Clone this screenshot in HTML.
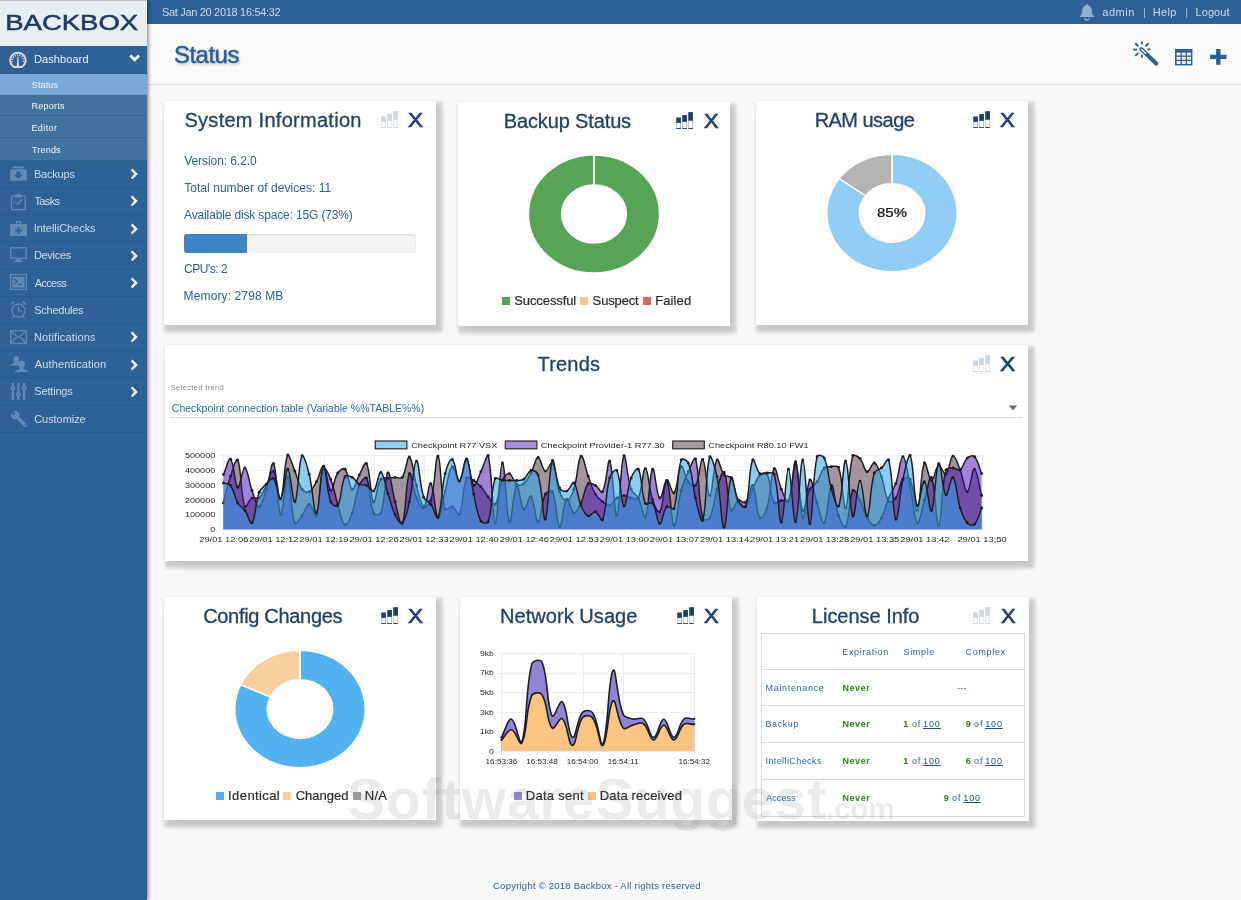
<!DOCTYPE html><html><head><meta charset="utf-8"><title>Status</title><style>
*{box-sizing:border-box;margin:0;padding:0}
html,body{width:1241px;height:900px;overflow:hidden}
body{position:relative;background:#f8f8f8;font-family:"Liberation Sans",sans-serif;color:#2d6099;line-height:1}
#app{position:absolute;left:0;top:0;width:1241px;height:900px;overflow:hidden;will-change:transform}
.abs,.t,svg{position:absolute}
.t{white-space:nowrap;line-height:1;transform-origin:0 0}
#side{position:absolute;left:0;top:0;width:147px;height:900px;background:#2e6297;box-shadow:1px 0 4px rgba(0,0,0,.55);z-index:5}
#logo{position:absolute;left:0;top:0;width:147px;height:46px;background:#e8edf2;border-top:1px solid #bfc3c7}
#hdr{position:absolute;left:147px;top:0;width:1094px;height:24px;background:#2e6297;z-index:4}
#tbar{position:absolute;left:147px;top:24px;width:1094px;height:61px;background:#fafafa;border-bottom:1px solid #dadde2}
.mi{position:absolute;left:0;width:147px;border-bottom:1px solid #295a8c}
.sub{position:absolute;left:0;width:147px;background:#40749f;border-bottom:1px solid #356891}
.card{position:absolute;background:#fff;box-shadow:3px 4px 3.5px 3.5px rgba(0,0,0,.165),4px 6px 12px rgba(0,0,0,.06)}
.u{text-decoration:underline}
</style></head><body><div id="app">
<div id="hdr"></div>
<div class="abs" style="left:0;top:0;z-index:6">
<span class="t" style="left:161.90px;top:7.00px;font-size:11px;letter-spacing:-0.311px;color:#cddaea;">Sat Jan 20 2018 16:54:32</span>
<span class="t" style="left:1102.23px;top:7.00px;font-size:11px;letter-spacing:0.555px;color:#cddaea;">admin</span>
<span class="t" style="left:1143.02px;top:7.00px;font-size:11px;color:#a9bfd8;">|</span>
<span class="t" style="left:1152.70px;top:7.00px;font-size:11px;letter-spacing:0.380px;color:#cddaea;">Help</span>
<span class="t" style="left:1185.32px;top:7.00px;font-size:11px;color:#a9bfd8;">|</span>
<span class="t" style="left:1195.50px;top:7.00px;font-size:11px;letter-spacing:0.088px;color:#cddaea;">Logout</span>
<svg style="left:1078px;top:3px" width="18" height="18" viewBox="0 0 18 18"><path d="M9 1.2c.8 0 1.3.5 1.3 1.2 2.3.7 3.6 2.7 3.6 5.4 0 2.9.8 4.3 2.3 5.4v.9H1.8v-.9c1.5-1.1 2.3-2.5 2.3-5.4 0-2.7 1.3-4.7 3.6-5.4 0-.7.5-1.2 1.3-1.2z" fill="#8fb0d3"/><path d="M6.8 14.8a2.2 2.2 0 0 0 4.4 0" fill="none" stroke="#8fb0d3" stroke-width="1.3"/></svg>
</div>
<div id="tbar"></div>
<span class="t" style="left:173.91px;top:43.00px;font-size:24px;letter-spacing:-0.496px;color:#2b5f99;-webkit-text-stroke:.55px #2b5f99;text-shadow:1px 2px 3px rgba(40,60,90,.3);">Status</span>
<svg style="left:1132px;top:40px" width="28" height="28" viewBox="0 0 28 28"><g stroke="#2a5f97" stroke-linecap="butt" fill="none"><path d="M9.300 9.100L24.200 23.500" stroke-width="4" stroke-linecap="round"/><path d="M9.600 9.400l4 3.900" stroke="#fafafa" stroke-width="1.300" stroke-linecap="round"/><g stroke-width="1.900"><path d="M9.850 1.500v2.900"/><path d="M9.850 14.900v2.800"/><path d="M1.300 9.600h3.700"/><path d="M15.500 9.400h2.900"/><path d="M3.200 3.300l3.300 3"/><path d="M16.600 3.300l-3.200 3"/><path d="M3.200 15.900l3.300-3"/></g></g></svg>
<svg style="left:1175px;top:49px" width="18" height="17" viewBox="0 0 18 17"><rect x="0" y="0" width="17.4" height="16.4" fill="#2a5f97"/><g fill="#fafafa"><rect x="1.6" y="3.6" width="3.9" height="2.9"/><rect x="6.8" y="3.6" width="3.9" height="2.9"/><rect x="12" y="3.6" width="3.9" height="2.9"/><rect x="1.6" y="7.8" width="3.9" height="2.9"/><rect x="6.8" y="7.8" width="3.9" height="2.9"/><rect x="12" y="7.8" width="3.9" height="2.9"/><rect x="1.6" y="12" width="3.9" height="2.9"/><rect x="6.8" y="12" width="3.9" height="2.9"/><rect x="12" y="12" width="3.9" height="2.9"/></g></svg>
<svg style="left:1210px;top:49px" width="17" height="16" viewBox="0 0 17 16"><path d="M6.1 0h4.4v5.7h6v4.4h-6v5.7H6.1v-5.7H.2V5.7h5.9z" fill="#2a5f97"/></svg>
<div id="side"><div id="logo">
<svg style="left:0;top:0" width="147" height="46" viewBox="0 0 147 46"><text x="5.2" y="29.3" font-family="Liberation Sans, sans-serif" font-size="22.6" fill="#1d3d66" stroke="#1d3d66" stroke-width=".55" textLength="133" lengthAdjust="spacingAndGlyphs">BACKBOX</text></svg>
</div>
<div class="mi" style="top:46px;height:28px"></div>
<svg style="left:9.3px;top:50.8px" width="18" height="18" viewBox="0 0 18 18"><g fill="none" stroke="#e0ddd7" stroke-linejoin="round"><path d="M4.9 16A7.700 7.700 0 1 1 12.900 16Z" stroke-width="2"/><path d="M3.830 11.350A5.400 5.400 0 1 1 13.970 11.350" stroke-width="1.500" stroke-dasharray="1.100 1.250"/></g><path d="M7.800 15.800h2.200L9.400 5.600h-1z" fill="#e0ddd7"/></svg>
<span class="t" style="left:33.90px;top:54.00px;font-size:11px;letter-spacing:0.100px;color:#eef2f7;">Dashboard</span>
<svg style="left:129px;top:54px" width="12" height="9" viewBox="0 0 12 9"><path d="M1.300 1.500l4.400 4.300 4.400-4.300" fill="none" stroke="#f4f7fb" stroke-width="2.900"/></svg>
<div class="sub" style="top:74px;height:21px;background:#78a9d8;border-color:#6d9dcc;"></div>
<span class="t" style="left:31.79px;top:81.00px;font-size:9px;letter-spacing:0.144px;color:#f2f6fa;">Status</span>
<div class="sub" style="top:95px;height:21.4px;"></div>
<span class="t" style="left:31.46px;top:102.00px;font-size:9px;letter-spacing:0.258px;color:#f2f6fa;">Reports</span>
<div class="sub" style="top:116.4px;height:22px;"></div>
<span class="t" style="left:31.46px;top:124.00px;font-size:9px;letter-spacing:0.395px;color:#f2f6fa;">Editor</span>
<div class="sub" style="top:138.4px;height:22.5px;"></div>
<span class="t" style="left:32.00px;top:146.00px;font-size:9px;letter-spacing:0.183px;color:#f2f6fa;">Trends</span>
<div class="mi" style="top:160.9px;height:27.2px"></div>
<svg style="left:10px;top:165.4px" width="18" height="18" viewBox="0 0 18 18"><path d="M2.6 1.6h11.8v1.6H2.6z M1 4.2h15a.8.8 0 0 1 .8.8v10a.8.8 0 0 1-.8.8H1a.8.8 0 0 1-.8-.8V5a.8.8 0 0 1 .8-.8z M6.6 6.4v3.2H4.2l4.3 4.2 4.3-4.2h-2.4V6.4z" fill="#5f8ab6" fill-rule="evenodd"/></svg>
<span class="t" style="left:33.90px;top:169.00px;font-size:11px;letter-spacing:-0.182px;color:#cfdcea;">Backups</span>
<svg style="left:130px;top:168.2px" width="9" height="12" viewBox="0 0 9 12"><path d="M1.600 1.300l4.400 4.600-4.400 4.600" fill="none" stroke="#f4f7fb" stroke-width="2.500"/></svg>
<div class="mi" style="top:188.1px;height:27.2px"></div>
<svg style="left:10px;top:192.6px" width="18" height="18" viewBox="0 0 18 18"><g fill="none" stroke="#5f8ab6" stroke-width="1.3"><rect x="1.6" y="3" width="13.6" height="13.6"/><path d="M5 8.6l2.6 2.8 4.6-5.2"/></g><path d="M5.6 1.6h2V.4h1.8v1.2h2v2.8H5.6z" fill="#5f8ab6"/></svg>
<span class="t" style="left:34.55px;top:196.00px;font-size:11px;letter-spacing:-0.673px;color:#cfdcea;">Tasks</span>
<svg style="left:130px;top:195.4px" width="9" height="12" viewBox="0 0 9 12"><path d="M1.600 1.300l4.400 4.600-4.400 4.600" fill="none" stroke="#f4f7fb" stroke-width="2.500"/></svg>
<div class="mi" style="top:215.3px;height:27.2px"></div>
<svg style="left:10px;top:219.8px" width="18" height="18" viewBox="0 0 18 18"><path d="M5.8 1h5.4v3H17v12H0V4h5.800z M7 2.200v1.800h3v-1.800z M7.400 7h2.200v2.400H12v2.200H9.600V14H7.400v-2.400H5V9.400h2.400z" fill="#5f8ab6" fill-rule="evenodd"/></svg>
<span class="t" style="left:33.78px;top:223.00px;font-size:11px;letter-spacing:-0.045px;color:#cfdcea;">IntelliChecks</span>
<svg style="left:130px;top:222.6px" width="9" height="12" viewBox="0 0 9 12"><path d="M1.600 1.300l4.400 4.600-4.400 4.600" fill="none" stroke="#f4f7fb" stroke-width="2.500"/></svg>
<div class="mi" style="top:242.5px;height:27.2px"></div>
<svg style="left:10px;top:247px" width="18" height="18" viewBox="0 0 18 18"><g fill="none" stroke="#5f8ab6" stroke-width="1.3"><rect x=".8" y=".8" width="15.400" height="10.400"/></g><path d="M6.400 11.600h4.200l.6 2.200h1.600v1.400H4.200v-1.400h1.600z" fill="#5f8ab6"/></svg>
<span class="t" style="left:33.90px;top:250.00px;font-size:11px;letter-spacing:-0.304px;color:#cfdcea;">Devices</span>
<svg style="left:130px;top:249.8px" width="9" height="12" viewBox="0 0 9 12"><path d="M1.600 1.300l4.400 4.600-4.400 4.600" fill="none" stroke="#f4f7fb" stroke-width="2.500"/></svg>
<div class="mi" style="top:269.7px;height:27.2px"></div>
<svg style="left:10px;top:274.2px" width="18" height="18" viewBox="0 0 18 18"><rect x=".6" y=".6" width="15.800" height="14.800" fill="none" stroke="#5f8ab6" stroke-width="1.200"/><rect x="2.400" y="2.800" width="12.200" height="10.800" fill="#5f8ab6"/><path d="M4 5l3.200 2.400L4 9.800" fill="none" stroke="#2e6297" stroke-width="1.200"/><path d="M8 10.400h4" stroke="#2e6297" stroke-width="1.200"/></svg>
<span class="t" style="left:34.78px;top:278.00px;font-size:11px;letter-spacing:-0.687px;color:#cfdcea;">Access</span>
<svg style="left:130px;top:277px" width="9" height="12" viewBox="0 0 9 12"><path d="M1.600 1.300l4.400 4.600-4.400 4.600" fill="none" stroke="#f4f7fb" stroke-width="2.500"/></svg>
<div class="mi" style="top:296.9px;height:27.2px"></div>
<svg style="left:10px;top:301.4px" width="18" height="18" viewBox="0 0 18 18"><g fill="none" stroke="#5f8ab6" stroke-width="1.300"><circle cx="8.500" cy="9.600" r="6.600"/><path d="M8.500 5.600v4.200h3.200"/><path d="M1.200 3.800a4 4 0 0 1 3.600-2.800M15.800 3.800A4 4 0 0 0 12.200 1"/><path d="M4.200 15l-1.400 1.800M12.800 15l1.400 1.800"/></g></svg>
<span class="t" style="left:34.30px;top:305.00px;font-size:11px;letter-spacing:-0.259px;color:#cfdcea;">Schedules</span>
<div class="mi" style="top:324.1px;height:27.2px"></div>
<svg style="left:10px;top:328.6px" width="18" height="18" viewBox="0 0 18 18"><g fill="none" stroke="#5f8ab6" stroke-width="1.300"><rect x=".7" y="1.700" width="15.600" height="12.600"/><path d="M.7 1.700l7.800 7 7.800-7M.7 14.300l5.800-6M16.300 14.300l-5.800-6"/></g></svg>
<span class="t" style="left:33.90px;top:332.00px;font-size:11px;letter-spacing:0.149px;color:#cfdcea;">Notifications</span>
<svg style="left:130px;top:331.4px" width="9" height="12" viewBox="0 0 9 12"><path d="M1.600 1.300l4.400 4.600-4.400 4.600" fill="none" stroke="#f4f7fb" stroke-width="2.500"/></svg>
<div class="mi" style="top:351.3px;height:27.2px"></div>
<svg style="left:10px;top:355.8px" width="18" height="18" viewBox="0 0 18 18"><path d="M6.400 0c1.800 0 2.800 1.300 2.800 3.200 0 1-.3 1.900-.9 2.600 1.200-1 2.400-1.400 3.400-1.400 2 0 3.100 1.500 3.100 3.700 0 1.600-.7 3-1.600 3.800v1c2.200.6 5 1.600 5.600 3.100H4.400c.6-1.500 3.400-2.500 5.400-3.100v-1c-.7-.6-1.200-1.500-1.400-2.500H0c.5-1.300 2.600-2.200 4.400-2.700v-.9C3.600 5.100 3.400 4.200 3.400 3.200 3.400 1.300 4.600 0 6.400 0z" fill="#5f8ab6"/></svg>
<span class="t" style="left:34.78px;top:359.00px;font-size:11px;letter-spacing:0.125px;color:#cfdcea;">Authentication</span>
<svg style="left:130px;top:358.6px" width="9" height="12" viewBox="0 0 9 12"><path d="M1.600 1.300l4.400 4.600-4.400 4.600" fill="none" stroke="#f4f7fb" stroke-width="2.500"/></svg>
<div class="mi" style="top:378.5px;height:27.2px"></div>
<svg style="left:10px;top:383px" width="18" height="18" viewBox="0 0 18 18"><g fill="#5f8ab6"><rect x="1.700" y="0" width="2.300" height="17"/><rect x="7.300" y="0" width="2.300" height="17"/><rect x="12.900" y="0" width="2.300" height="17"/><rect x=".4" y="3.400" width="4.900" height="3.800" rx="1.300"/><rect x="6" y="9.600" width="4.900" height="3.800" rx="1.300"/><rect x="11.600" y="2.800" width="4.900" height="3.800" rx="1.300"/></g><g fill="#2e6297"><rect x="2.200" y="4.500" width="1.300" height="1.600"/><rect x="7.800" y="10.700" width="1.300" height="1.600"/><rect x="13.400" y="3.900" width="1.300" height="1.600"/></g></svg>
<span class="t" style="left:34.30px;top:386.00px;font-size:11px;letter-spacing:-0.178px;color:#cfdcea;">Settings</span>
<svg style="left:130px;top:385.8px" width="9" height="12" viewBox="0 0 9 12"><path d="M1.600 1.300l4.400 4.600-4.400 4.600" fill="none" stroke="#f4f7fb" stroke-width="2.500"/></svg>
<div class="mi" style="top:405.7px;height:27.2px"></div>
<svg style="left:10px;top:410.2px" width="18" height="18" viewBox="0 0 18 18"><circle cx="5" cy="5" r="4.300" fill="#5f8ab6"/><path d="M6.500 6.500L15.300 15.300" stroke="#5f8ab6" stroke-width="3.600" stroke-linecap="round" fill="none"/><path d="M4.300 4.300L-.5 -.5" stroke="#2e6297" stroke-width="3" fill="none"/><circle cx="15.100" cy="15.100" r=".8" fill="#2e6297"/></svg>
<span class="t" style="left:34.24px;top:414.00px;font-size:11px;letter-spacing:-0.064px;color:#cfdcea;">Customize</span>
</div>
<div class="card" style="left:164px;top:101px;width:272px;height:224px"></div>
<div class="card" style="left:458px;top:102px;width:272px;height:224px"></div>
<div class="card" style="left:756px;top:101px;width:272px;height:224px"></div>
<div class="card" style="left:165px;top:345px;width:863px;height:216px"></div>
<div class="card" style="left:164px;top:597px;width:272px;height:223px"></div>
<div class="card" style="left:460px;top:597px;width:272px;height:223px"></div>
<div class="card" style="left:757px;top:597px;width:272px;height:224px"></div>
<span class="t" style="left:184.49px;top:110.00px;font-size:20px;letter-spacing:0.272px;color:#1f4068;-webkit-text-stroke:.3px #1f4068;">System Information</span>
<svg style="left:380.8px;top:110.6px" width="18" height="18" viewBox="0 0 18 18"><rect x="0.3" y="5.6" width="4.600" height="11.2" fill="#e3e9f0"/><rect x="0.3" y="5.6" width="4.600" height="5.3" fill="#ccd7e3"/><rect x="0.3" y="16" width="4.600" height=".9" fill="#ccd7e3"/><rect x="1.1" y="10.9" width="3" height="5.1" fill="#fff"/><rect x="6.3" y="3.1" width="4.600" height="13.7" fill="#e3e9f0"/><rect x="6.3" y="3.1" width="4.600" height="6.85" fill="#ccd7e3"/><rect x="6.3" y="16" width="4.600" height=".9" fill="#ccd7e3"/><rect x="7.1" y="9.95" width="3" height="6.05" fill="#fff"/><rect x="12.3" y="0.2" width="4.600" height="16.6" fill="#e3e9f0"/><rect x="12.3" y="0.2" width="4.600" height="8.6" fill="#ccd7e3"/><rect x="12.3" y="16" width="4.600" height=".9" fill="#ccd7e3"/><rect x="13.1" y="8.8" width="3" height="7.2" fill="#fff"/></svg>
<span class="t" style="left:408.36px;top:111.00px;font-size:19.5px;color:#1f4068;-webkit-text-stroke:.7px #1f4068;transform:scaleX(1.151);">X</span>
<span class="t" style="left:503.76px;top:111.00px;font-size:20px;letter-spacing:-0.133px;color:#1f4068;-webkit-text-stroke:.3px #1f4068;">Backup Status</span>
<svg style="left:675.5px;top:111.8px" width="18" height="18" viewBox="0 0 18 18"><rect x="0.3" y="5.6" width="4.600" height="11.2" fill="#a9b8ca"/><rect x="0.3" y="5.6" width="4.600" height="5.3" fill="#1f4068"/><rect x="0.3" y="16" width="4.600" height=".9" fill="#1f4068"/><rect x="1.1" y="10.9" width="3" height="5.1" fill="#fff"/><rect x="6.3" y="3.1" width="4.600" height="13.7" fill="#a9b8ca"/><rect x="6.3" y="3.1" width="4.600" height="6.85" fill="#1f4068"/><rect x="6.3" y="16" width="4.600" height=".9" fill="#1f4068"/><rect x="7.1" y="9.95" width="3" height="6.05" fill="#fff"/><rect x="12.3" y="0.2" width="4.600" height="16.6" fill="#a9b8ca"/><rect x="12.3" y="0.2" width="4.600" height="8.6" fill="#1f4068"/><rect x="12.3" y="16" width="4.600" height=".9" fill="#1f4068"/><rect x="13.1" y="8.8" width="3" height="7.2" fill="#fff"/></svg>
<span class="t" style="left:703.56px;top:112.00px;font-size:19.5px;color:#1f4068;-webkit-text-stroke:.7px #1f4068;transform:scaleX(1.119);">X</span>
<span class="t" style="left:814.66px;top:110.00px;font-size:20px;letter-spacing:-0.533px;color:#1f4068;-webkit-text-stroke:.3px #1f4068;">RAM usage</span>
<svg style="left:973px;top:110.6px" width="18" height="18" viewBox="0 0 18 18"><rect x="0.3" y="5.6" width="4.600" height="11.2" fill="#a9b8ca"/><rect x="0.3" y="5.6" width="4.600" height="5.3" fill="#1f4068"/><rect x="0.3" y="16" width="4.600" height=".9" fill="#1f4068"/><rect x="1.1" y="10.9" width="3" height="5.1" fill="#fff"/><rect x="6.3" y="3.1" width="4.600" height="13.7" fill="#a9b8ca"/><rect x="6.3" y="3.1" width="4.600" height="6.85" fill="#1f4068"/><rect x="6.3" y="16" width="4.600" height=".9" fill="#1f4068"/><rect x="7.1" y="9.95" width="3" height="6.05" fill="#fff"/><rect x="12.3" y="0.2" width="4.600" height="16.6" fill="#a9b8ca"/><rect x="12.3" y="0.2" width="4.600" height="8.6" fill="#1f4068"/><rect x="12.3" y="16" width="4.600" height=".9" fill="#1f4068"/><rect x="13.1" y="8.8" width="3" height="7.2" fill="#fff"/></svg>
<span class="t" style="left:1000.36px;top:111.00px;font-size:19.5px;color:#1f4068;-webkit-text-stroke:.7px #1f4068;transform:scaleX(1.135);">X</span>
<span class="t" style="left:537.55px;top:354.00px;font-size:20px;letter-spacing:0.185px;color:#1f4068;-webkit-text-stroke:.3px #1f4068;">Trends</span>
<svg style="left:972.5px;top:355px" width="18" height="18" viewBox="0 0 18 18"><rect x="0.3" y="5.6" width="4.600" height="11.2" fill="#e3e9f0"/><rect x="0.3" y="5.6" width="4.600" height="5.3" fill="#ccd7e3"/><rect x="0.3" y="16" width="4.600" height=".9" fill="#ccd7e3"/><rect x="1.1" y="10.9" width="3" height="5.1" fill="#fff"/><rect x="6.3" y="3.1" width="4.600" height="13.7" fill="#e3e9f0"/><rect x="6.3" y="3.1" width="4.600" height="6.85" fill="#ccd7e3"/><rect x="6.3" y="16" width="4.600" height=".9" fill="#ccd7e3"/><rect x="7.1" y="9.95" width="3" height="6.05" fill="#fff"/><rect x="12.3" y="0.2" width="4.600" height="16.6" fill="#e3e9f0"/><rect x="12.3" y="0.2" width="4.600" height="8.6" fill="#ccd7e3"/><rect x="12.3" y="16" width="4.600" height=".9" fill="#ccd7e3"/><rect x="13.1" y="8.8" width="3" height="7.2" fill="#fff"/></svg>
<span class="t" style="left:1000.06px;top:355.00px;font-size:19.5px;color:#1f4068;-webkit-text-stroke:.7px #1f4068;transform:scaleX(1.176);">X</span>
<span class="t" style="left:203.18px;top:606.00px;font-size:20px;letter-spacing:-0.315px;color:#1f4068;-webkit-text-stroke:.3px #1f4068;">Config Changes</span>
<svg style="left:380.8px;top:607.3px" width="18" height="18" viewBox="0 0 18 18"><rect x="0.3" y="5.6" width="4.600" height="11.2" fill="#a9b8ca"/><rect x="0.3" y="5.6" width="4.600" height="5.3" fill="#1f4068"/><rect x="0.3" y="16" width="4.600" height=".9" fill="#1f4068"/><rect x="1.1" y="10.9" width="3" height="5.1" fill="#fff"/><rect x="6.3" y="3.1" width="4.600" height="13.7" fill="#a9b8ca"/><rect x="6.3" y="3.1" width="4.600" height="6.85" fill="#1f4068"/><rect x="6.3" y="16" width="4.600" height=".9" fill="#1f4068"/><rect x="7.1" y="9.95" width="3" height="6.05" fill="#fff"/><rect x="12.3" y="0.2" width="4.600" height="16.6" fill="#a9b8ca"/><rect x="12.3" y="0.2" width="4.600" height="8.6" fill="#1f4068"/><rect x="12.3" y="16" width="4.600" height=".9" fill="#1f4068"/><rect x="13.1" y="8.8" width="3" height="7.2" fill="#fff"/></svg>
<span class="t" style="left:408.36px;top:607.00px;font-size:19.5px;color:#1f4068;-webkit-text-stroke:.7px #1f4068;transform:scaleX(1.151);">X</span>
<span class="t" style="left:499.96px;top:606.00px;font-size:20px;letter-spacing:0.059px;color:#1f4068;-webkit-text-stroke:.3px #1f4068;">Network Usage</span>
<svg style="left:676.8px;top:607.3px" width="18" height="18" viewBox="0 0 18 18"><rect x="0.3" y="5.6" width="4.600" height="11.2" fill="#a9b8ca"/><rect x="0.3" y="5.6" width="4.600" height="5.3" fill="#1f4068"/><rect x="0.3" y="16" width="4.600" height=".9" fill="#1f4068"/><rect x="1.1" y="10.9" width="3" height="5.1" fill="#fff"/><rect x="6.3" y="3.1" width="4.600" height="13.7" fill="#a9b8ca"/><rect x="6.3" y="3.1" width="4.600" height="6.85" fill="#1f4068"/><rect x="6.3" y="16" width="4.600" height=".9" fill="#1f4068"/><rect x="7.1" y="9.95" width="3" height="6.05" fill="#fff"/><rect x="12.3" y="0.2" width="4.600" height="16.6" fill="#a9b8ca"/><rect x="12.3" y="0.2" width="4.600" height="8.6" fill="#1f4068"/><rect x="12.3" y="16" width="4.600" height=".9" fill="#1f4068"/><rect x="13.1" y="8.8" width="3" height="7.2" fill="#fff"/></svg>
<span class="t" style="left:704.46px;top:607.00px;font-size:19.5px;color:#1f4068;-webkit-text-stroke:.7px #1f4068;transform:scaleX(1.127);">X</span>
<span class="t" style="left:811.86px;top:606.00px;font-size:20px;letter-spacing:-0.025px;color:#1f4068;-webkit-text-stroke:.3px #1f4068;">License Info</span>
<svg style="left:973.4px;top:607.3px" width="18" height="18" viewBox="0 0 18 18"><rect x="0.3" y="5.6" width="4.600" height="11.2" fill="#e3e9f0"/><rect x="0.3" y="5.6" width="4.600" height="5.3" fill="#ccd7e3"/><rect x="0.3" y="16" width="4.600" height=".9" fill="#ccd7e3"/><rect x="1.1" y="10.9" width="3" height="5.1" fill="#fff"/><rect x="6.3" y="3.1" width="4.600" height="13.7" fill="#e3e9f0"/><rect x="6.3" y="3.1" width="4.600" height="6.85" fill="#ccd7e3"/><rect x="6.3" y="16" width="4.600" height=".9" fill="#ccd7e3"/><rect x="7.1" y="9.95" width="3" height="6.05" fill="#fff"/><rect x="12.3" y="0.2" width="4.600" height="16.6" fill="#e3e9f0"/><rect x="12.3" y="0.2" width="4.600" height="8.6" fill="#ccd7e3"/><rect x="12.3" y="16" width="4.600" height=".9" fill="#ccd7e3"/><rect x="13.1" y="8.8" width="3" height="7.2" fill="#fff"/></svg>
<span class="t" style="left:1001.46px;top:607.00px;font-size:19.5px;color:#1f4068;-webkit-text-stroke:.7px #1f4068;transform:scaleX(1.127);">X</span>
<span class="t" style="left:184.25px;top:155.00px;font-size:12px;letter-spacing:-0.071px;color:#2d6099;">Version: 6.2.0</span>
<span class="t" style="left:184.23px;top:182.00px;font-size:12px;letter-spacing:0.045px;color:#2d6099;">Total number of devices: 11</span>
<span class="t" style="left:184.08px;top:209.00px;font-size:12px;letter-spacing:-0.148px;color:#2d6099;">Available disk space: 15G (73%)</span>
<span class="t" style="left:183.99px;top:263.00px;font-size:12px;letter-spacing:-0.451px;color:#2d6099;">CPU's: 2</span>
<span class="t" style="left:183.62px;top:290.00px;font-size:12px;letter-spacing:0.120px;color:#2d6099;">Memory: 2798 MB</span>
<div class="abs" style="left:184px;top:234px;width:232px;height:19px;background:#f3f3f3;border-radius:3px;box-shadow:inset 0 1px 2px rgba(0,0,0,.12);overflow:hidden"><div style="width:63px;height:19px;background:#3d85c6"></div></div>
<svg style="left:523.9px;top:148.6px" width="140" height="130" viewBox="-70 -65 140 130"><g transform="scale(1,0.9)"><circle cx="0" cy="0" r="48.95" fill="none" stroke="#58a457" stroke-width="31.7"/><path d="M0 -65.8 V-32.1" stroke="#fff" stroke-width="1.800"/></g></svg>
<svg style="left:822.2px;top:148.3px" width="140" height="130" viewBox="-70 -65 140 130"><g transform="scale(1,0.9)"><path d="M0.00 -65.30A65.3 65.3 0 1 1 -52.83 -38.38L-26.37 -19.16A32.6 32.6 0 1 0 0.00 -32.60Z" fill="#8fcdf4" stroke="#fff" stroke-width="1.600"/><path d="M-52.83 -38.38A65.3 65.3 0 0 1 -0.00 -65.30L-0.00 -32.60A32.6 32.6 0 0 0 -26.37 -19.16Z" fill="#b3b3b3" stroke="#fff" stroke-width="1.600"/></g><text x="0" y="4.400" text-anchor="middle" font-family="Liberation Sans, sans-serif" font-size="13" fill="#111" stroke="#111" stroke-width=".25" transform="scale(1.150,1)">85%</text></svg>
<svg style="left:230px;top:643.7px" width="140" height="130" viewBox="-70 -65 140 130"><g transform="scale(1,0.9)"><path d="M0.00 -65.30A65.3 65.3 0 1 1 -59.42 -27.08L-29.66 -13.52A32.6 32.6 0 1 0 0.00 -32.60Z" fill="#52b1ee" stroke="#fff" stroke-width="1.600"/><path d="M-59.42 -27.08A65.3 65.3 0 0 1 -0.00 -65.30L-0.00 -32.60A32.6 32.6 0 0 0 -29.66 -13.52Z" fill="#f8d09e" stroke="#fff" stroke-width="1.600"/></g></svg>
<div class="abs" style="left:502.1px;top:296.8px;width:8px;height:8px;background:#55a355"></div>
<span class="t" style="left:514.21px;top:294.00px;font-size:13px;letter-spacing:-0.089px;color:#2b2b2b;-webkit-text-stroke:.2px #2b2b2b;">Successful</span>
<div class="abs" style="left:580px;top:296.8px;width:8px;height:8px;background:#f6c98f"></div>
<span class="t" style="left:592.61px;top:294.00px;font-size:13px;letter-spacing:-0.148px;color:#2b2b2b;-webkit-text-stroke:.2px #2b2b2b;">Suspect</span>
<div class="abs" style="left:643.3px;top:296.8px;width:8px;height:8px;background:#d8695e"></div>
<span class="t" style="left:655.23px;top:294.00px;font-size:13px;letter-spacing:0.099px;color:#2b2b2b;-webkit-text-stroke:.2px #2b2b2b;">Failed</span>
<div class="abs" style="left:216px;top:791.8px;width:8px;height:8px;background:#52b1ee"></div>
<span class="t" style="left:228.10px;top:789.00px;font-size:13px;letter-spacing:0.406px;color:#2b2b2b;-webkit-text-stroke:.2px #2b2b2b;">Identical</span>
<div class="abs" style="left:283.3px;top:791.8px;width:8px;height:8px;background:#f8cc96"></div>
<span class="t" style="left:295.64px;top:789.00px;font-size:13px;letter-spacing:0.022px;color:#2b2b2b;-webkit-text-stroke:.2px #2b2b2b;">Changed</span>
<div class="abs" style="left:353px;top:791.8px;width:8px;height:8px;background:#a09ea0"></div>
<span class="t" style="left:364.73px;top:789.00px;font-size:13px;letter-spacing:0.310px;color:#2b2b2b;-webkit-text-stroke:.2px #2b2b2b;">N/A</span>
<div class="abs" style="left:513.9px;top:791.8px;width:8px;height:8px;background:#8e86cf"></div>
<span class="t" style="left:525.83px;top:789.00px;font-size:13px;letter-spacing:0.252px;color:#2b2b2b;-webkit-text-stroke:.2px #2b2b2b;">Data sent</span>
<div class="abs" style="left:588px;top:791.8px;width:8px;height:8px;background:#f9c57f"></div>
<span class="t" style="left:599.73px;top:789.00px;font-size:13px;letter-spacing:0.166px;color:#2b2b2b;-webkit-text-stroke:.2px #2b2b2b;">Data received</span>
<span class="t" style="left:170.76px;top:384.00px;font-size:7.5px;letter-spacing:0.351px;color:#8a8a8a;">Selected trend</span>
<span class="t" style="left:171.87px;top:403.00px;font-size:10.5px;color:#2f66a3;">Checkpoint connection table (Variable %%TABLE%%)</span>
<div class="abs" style="left:170px;top:417px;width:852px;height:1px;background:#dcdcdc"></div>
<svg style="left:1007.5px;top:405px" width="10" height="6" viewBox="0 0 10 6"><path d="M.8.600h8.400L5 5.200z" fill="#666"/></svg>
<svg style="left:0;top:0" width="1241" height="900" viewBox="0 0 1241 900" font-family="Liberation Sans, sans-serif"><path d="M220.4 529.5H981.600M220.4 514.5H981.600M220.4 500.5H981.600M220.4 485.5H981.600M220.4 470.5H981.600M220.4 455.5H981.600M223.5 455.2V533.3M273.5 455.2V533.3M324.5 455.2V533.3M374.5 455.2V533.3M424.5 455.2V533.3M474.5 455.2V533.3M524.5 455.2V533.3M574.5 455.2V533.3M624.5 455.2V533.3M674.5 455.2V533.3M724.5 455.2V533.3M774.5 455.2V533.3M824.5 455.2V533.3M874.5 455.2V533.3M924.5 455.2V533.3M982.5 455.2V533.3" stroke="#eeeeee" stroke-width="1" fill="none"/><path d="M223.4 503.0C226.3 492.2 227.0 486.6 230.6 476.1C232.8 469.5 236.2 456.8 237.7 460.1C241.9 469.0 240.2 494.5 244.9 506.7C246.0 509.6 248.5 500.1 252.0 498.0C254.2 496.6 257.3 499.6 259.2 498.0C263.0 494.6 263.6 490.6 266.3 485.5C269.3 479.8 271.4 469.1 273.5 471.1C277.2 474.6 278.4 501.8 280.6 499.2C284.1 495.3 283.7 462.9 287.8 454.9C289.4 454.2 292.2 464.6 294.9 471.1C297.9 478.3 298.0 483.3 302.1 489.2C303.7 491.5 307.1 492.9 309.2 491.7C312.8 489.9 314.0 486.0 316.4 481.7C319.7 476.0 321.2 465.3 323.5 466.7C327.0 468.8 327.4 489.1 330.7 490.5C333.2 491.5 333.8 478.9 337.8 473.0C339.6 470.4 343.4 467.4 345.0 469.2C349.1 473.9 348.9 487.9 352.2 489.2C354.6 490.2 356.2 480.5 359.3 474.9C361.9 470.2 365.0 460.9 366.5 463.6C370.7 471.6 370.1 497.8 373.6 501.7C375.8 504.1 376.4 486.5 380.8 479.2C382.1 477.0 385.0 478.4 387.9 478.0C390.8 477.6 392.2 477.5 395.1 477.4C397.9 477.2 400.8 479.4 402.2 477.4C406.5 471.2 407.0 455.6 409.4 457.0C412.7 458.9 413.3 474.2 416.5 485.5C419.0 494.1 419.7 502.5 423.7 506.7C425.4 508.5 429.8 504.0 430.8 500.5C435.6 483.8 435.4 454.5 438.0 456.1C441.1 458.0 440.1 491.5 445.1 509.2C445.9 511.7 449.9 505.9 452.3 506.7C455.6 507.9 458.2 516.7 459.4 514.2C463.9 505.2 461.9 489.2 466.6 478.0C467.6 475.7 471.2 478.9 473.8 480.5C476.9 482.4 478.4 483.9 480.9 486.7C484.1 490.4 485.0 492.9 488.1 496.7C490.7 499.9 493.6 506.2 495.2 504.2C499.3 499.4 498.2 488.8 502.4 479.9C503.9 476.5 507.1 472.9 509.5 473.6C512.8 474.6 513.0 481.7 516.7 484.2C518.7 485.7 521.8 485.2 523.8 483.6C527.5 480.7 528.5 477.5 531.0 473.0C534.3 467.0 535.1 457.8 538.1 457.4C540.8 457.0 541.9 469.8 545.3 471.1C547.6 472.0 550.9 460.8 552.4 463.0C556.6 469.0 555.4 480.9 559.6 491.7C561.2 495.9 564.1 500.9 566.7 500.5C569.8 499.9 572.3 494.2 573.9 489.2C578.0 476.5 577.5 459.3 581.0 456.1C583.3 454.2 585.2 468.2 588.2 476.1C590.9 483.4 591.6 487.5 595.4 494.2C597.3 497.8 599.3 499.2 602.5 501.7C605.0 503.7 607.2 506.1 609.7 505.5C612.9 504.6 613.5 500.3 616.8 498.0C619.2 496.3 621.1 495.5 624.0 495.5C626.8 495.5 628.2 497.4 631.1 498.0C633.9 498.4 637.2 500.2 638.3 498.0C642.9 488.5 642.6 468.2 645.4 468.6C648.4 469.0 648.6 487.8 652.6 499.8C654.3 505.0 658.0 514.0 659.7 511.7C663.7 506.3 662.9 485.6 666.9 480.5C668.7 478.2 672.1 494.9 674.0 493.0C677.8 489.4 677.6 469.5 681.2 466.7C683.4 465.0 684.5 476.7 688.3 481.7C690.2 484.2 694.2 487.5 695.5 485.5C699.9 478.6 700.2 457.8 702.7 459.5C705.9 461.8 706.9 495.4 709.8 495.5C712.7 495.5 713.0 465.5 717.0 459.9C718.8 457.3 720.2 469.9 724.1 474.9C725.9 477.2 729.9 475.4 731.3 478.0C735.7 486.6 734.1 494.2 738.4 503.0C739.8 505.7 743.9 508.4 745.6 506.7C749.6 502.9 749.6 496.1 752.7 489.2C755.4 483.4 755.9 479.0 759.9 474.9C761.6 473.0 765.9 472.0 767.0 474.2C771.6 483.3 769.6 494.6 774.2 503.0C775.3 505.1 778.4 501.0 781.3 500.5C784.1 500.0 787.6 502.8 788.5 500.5C793.3 488.3 793.1 462.5 795.6 464.2C798.8 466.5 798.9 503.7 802.8 510.5C804.6 513.7 806.0 497.1 809.9 489.2C811.8 485.6 814.8 485.1 817.1 481.7C820.5 476.6 820.4 472.1 824.3 468.0C826.1 466.1 828.5 466.9 831.4 466.7C834.3 466.6 837.7 464.9 838.6 467.4C843.4 481.4 843.2 510.0 845.7 508.0C848.9 505.3 847.9 472.7 852.9 455.5C853.6 454.2 858.1 456.4 860.0 458.6C863.8 462.9 863.9 470.7 867.2 471.7C869.6 472.5 871.9 462.1 874.3 463.0C877.6 464.1 879.3 470.9 881.5 476.7C885.1 486.4 884.3 495.2 888.6 501.7C890.0 503.7 894.1 500.5 895.8 498.0C899.9 491.6 898.7 484.8 902.9 479.2C904.4 477.3 909.0 476.9 910.1 479.2C914.8 489.4 915.0 513.1 917.2 510.5C920.7 506.6 920.3 471.6 924.4 463.0C926.0 459.6 928.5 479.9 931.5 480.5C934.2 480.9 935.3 467.0 938.7 465.5C941.0 464.5 943.8 475.6 945.9 474.2C949.5 471.9 949.9 456.9 953.0 456.1C955.6 455.4 957.8 464.5 960.2 470.5C963.5 478.8 964.5 492.0 967.3 491.7C970.2 491.5 971.8 468.5 974.5 469.2C977.5 470.0 978.8 485.0 981.6 495.5L981.6 529.3L223.4 529.3Z" fill="rgba(72,42,66,.5)"/><path d="M223.4 503.0C226.3 492.2 227.0 486.6 230.6 476.1C232.8 469.5 236.2 456.8 237.7 460.1C241.9 469.0 240.2 494.5 244.9 506.7C246.0 509.6 248.5 500.1 252.0 498.0C254.2 496.6 257.3 499.6 259.2 498.0C263.0 494.6 263.6 490.6 266.3 485.5C269.3 479.8 271.4 469.1 273.5 471.1C277.2 474.6 278.4 501.8 280.6 499.2C284.1 495.3 283.7 462.9 287.8 454.9C289.4 454.2 292.2 464.6 294.9 471.1C297.9 478.3 298.0 483.3 302.1 489.2C303.7 491.5 307.1 492.9 309.2 491.7C312.8 489.9 314.0 486.0 316.4 481.7C319.7 476.0 321.2 465.3 323.5 466.7C327.0 468.8 327.4 489.1 330.7 490.5C333.2 491.5 333.8 478.9 337.8 473.0C339.6 470.4 343.4 467.4 345.0 469.2C349.1 473.9 348.9 487.9 352.2 489.2C354.6 490.2 356.2 480.5 359.3 474.9C361.9 470.2 365.0 460.9 366.5 463.6C370.7 471.6 370.1 497.8 373.6 501.7C375.8 504.1 376.4 486.5 380.8 479.2C382.1 477.0 385.0 478.4 387.9 478.0C390.8 477.6 392.2 477.5 395.1 477.4C397.9 477.2 400.8 479.4 402.2 477.4C406.5 471.2 407.0 455.6 409.4 457.0C412.7 458.9 413.3 474.2 416.5 485.5C419.0 494.1 419.7 502.5 423.7 506.7C425.4 508.5 429.8 504.0 430.8 500.5C435.6 483.8 435.4 454.5 438.0 456.1C441.1 458.0 440.1 491.5 445.1 509.2C445.9 511.7 449.9 505.9 452.3 506.7C455.6 507.9 458.2 516.7 459.4 514.2C463.9 505.2 461.9 489.2 466.6 478.0C467.6 475.7 471.2 478.9 473.8 480.5C476.9 482.4 478.4 483.9 480.9 486.7C484.1 490.4 485.0 492.9 488.1 496.7C490.7 499.9 493.6 506.2 495.2 504.2C499.3 499.4 498.2 488.8 502.4 479.9C503.9 476.5 507.1 472.9 509.5 473.6C512.8 474.6 513.0 481.7 516.7 484.2C518.7 485.7 521.8 485.2 523.8 483.6C527.5 480.7 528.5 477.5 531.0 473.0C534.3 467.0 535.1 457.8 538.1 457.4C540.8 457.0 541.9 469.8 545.3 471.1C547.6 472.0 550.9 460.8 552.4 463.0C556.6 469.0 555.4 480.9 559.6 491.7C561.2 495.9 564.1 500.9 566.7 500.5C569.8 499.9 572.3 494.2 573.9 489.2C578.0 476.5 577.5 459.3 581.0 456.1C583.3 454.2 585.2 468.2 588.2 476.1C590.9 483.4 591.6 487.5 595.4 494.2C597.3 497.8 599.3 499.2 602.5 501.7C605.0 503.7 607.2 506.1 609.7 505.5C612.9 504.6 613.5 500.3 616.8 498.0C619.2 496.3 621.1 495.5 624.0 495.5C626.8 495.5 628.2 497.4 631.1 498.0C633.9 498.4 637.2 500.2 638.3 498.0C642.9 488.5 642.6 468.2 645.4 468.6C648.4 469.0 648.6 487.8 652.6 499.8C654.3 505.0 658.0 514.0 659.7 511.7C663.7 506.3 662.9 485.6 666.9 480.5C668.7 478.2 672.1 494.9 674.0 493.0C677.8 489.4 677.6 469.5 681.2 466.7C683.4 465.0 684.5 476.7 688.3 481.7C690.2 484.2 694.2 487.5 695.5 485.5C699.9 478.6 700.2 457.8 702.7 459.5C705.9 461.8 706.9 495.4 709.8 495.5C712.7 495.5 713.0 465.5 717.0 459.9C718.8 457.3 720.2 469.9 724.1 474.9C725.9 477.2 729.9 475.4 731.3 478.0C735.7 486.6 734.1 494.2 738.4 503.0C739.8 505.7 743.9 508.4 745.6 506.7C749.6 502.9 749.6 496.1 752.7 489.2C755.4 483.4 755.9 479.0 759.9 474.9C761.6 473.0 765.9 472.0 767.0 474.2C771.6 483.3 769.6 494.6 774.2 503.0C775.3 505.1 778.4 501.0 781.3 500.5C784.1 500.0 787.6 502.8 788.5 500.5C793.3 488.3 793.1 462.5 795.6 464.2C798.8 466.5 798.9 503.7 802.8 510.5C804.6 513.7 806.0 497.1 809.9 489.2C811.8 485.6 814.8 485.1 817.1 481.7C820.5 476.6 820.4 472.1 824.3 468.0C826.1 466.1 828.5 466.9 831.4 466.7C834.3 466.6 837.7 464.9 838.6 467.4C843.4 481.4 843.2 510.0 845.7 508.0C848.9 505.3 847.9 472.7 852.9 455.5C853.6 454.2 858.1 456.4 860.0 458.6C863.8 462.9 863.9 470.7 867.2 471.7C869.6 472.5 871.9 462.1 874.3 463.0C877.6 464.1 879.3 470.9 881.5 476.7C885.1 486.4 884.3 495.2 888.6 501.7C890.0 503.7 894.1 500.5 895.8 498.0C899.9 491.6 898.7 484.8 902.9 479.2C904.4 477.3 909.0 476.9 910.1 479.2C914.8 489.4 915.0 513.1 917.2 510.5C920.7 506.6 920.3 471.6 924.4 463.0C926.0 459.6 928.5 479.9 931.5 480.5C934.2 480.9 935.3 467.0 938.7 465.5C941.0 464.5 943.8 475.6 945.9 474.2C949.5 471.9 949.9 456.9 953.0 456.1C955.6 455.4 957.8 464.5 960.2 470.5C963.5 478.8 964.5 492.0 967.3 491.7C970.2 491.5 971.8 468.5 974.5 469.2C977.5 470.0 978.8 485.0 981.6 495.5" fill="none" stroke="#1e1e22" stroke-width="1.500" stroke-linejoin="round"/><g fill="#1e1e22"><circle cx="223.4" cy="503.0" r="1.450"/><circle cx="230.6" cy="476.1" r="1.450"/><circle cx="237.7" cy="460.1" r="1.450"/><circle cx="244.9" cy="506.7" r="1.450"/><circle cx="252.0" cy="498.0" r="1.450"/><circle cx="259.2" cy="498.0" r="1.450"/><circle cx="266.3" cy="485.5" r="1.450"/><circle cx="273.5" cy="471.1" r="1.450"/><circle cx="280.6" cy="499.2" r="1.450"/><circle cx="287.8" cy="454.9" r="1.450"/><circle cx="294.9" cy="471.1" r="1.450"/><circle cx="302.1" cy="489.2" r="1.450"/><circle cx="309.2" cy="491.7" r="1.450"/><circle cx="316.4" cy="481.7" r="1.450"/><circle cx="323.5" cy="466.7" r="1.450"/><circle cx="330.7" cy="490.5" r="1.450"/><circle cx="337.8" cy="473.0" r="1.450"/><circle cx="345.0" cy="469.2" r="1.450"/><circle cx="352.2" cy="489.2" r="1.450"/><circle cx="359.3" cy="474.9" r="1.450"/><circle cx="366.5" cy="463.6" r="1.450"/><circle cx="373.6" cy="501.7" r="1.450"/><circle cx="380.8" cy="479.2" r="1.450"/><circle cx="387.9" cy="478.0" r="1.450"/><circle cx="395.1" cy="477.4" r="1.450"/><circle cx="402.2" cy="477.4" r="1.450"/><circle cx="409.4" cy="457.0" r="1.450"/><circle cx="416.5" cy="485.5" r="1.450"/><circle cx="423.7" cy="506.7" r="1.450"/><circle cx="430.8" cy="500.5" r="1.450"/><circle cx="438.0" cy="456.1" r="1.450"/><circle cx="445.1" cy="509.2" r="1.450"/><circle cx="452.3" cy="506.7" r="1.450"/><circle cx="459.4" cy="514.2" r="1.450"/><circle cx="466.6" cy="478.0" r="1.450"/><circle cx="473.8" cy="480.5" r="1.450"/><circle cx="480.9" cy="486.7" r="1.450"/><circle cx="488.1" cy="496.7" r="1.450"/><circle cx="495.2" cy="504.2" r="1.450"/><circle cx="502.4" cy="479.9" r="1.450"/><circle cx="509.5" cy="473.6" r="1.450"/><circle cx="516.7" cy="484.2" r="1.450"/><circle cx="523.8" cy="483.6" r="1.450"/><circle cx="531.0" cy="473.0" r="1.450"/><circle cx="538.1" cy="457.4" r="1.450"/><circle cx="545.3" cy="471.1" r="1.450"/><circle cx="552.4" cy="463.0" r="1.450"/><circle cx="559.6" cy="491.7" r="1.450"/><circle cx="566.7" cy="500.5" r="1.450"/><circle cx="573.9" cy="489.2" r="1.450"/><circle cx="581.0" cy="456.1" r="1.450"/><circle cx="588.2" cy="476.1" r="1.450"/><circle cx="595.4" cy="494.2" r="1.450"/><circle cx="602.5" cy="501.7" r="1.450"/><circle cx="609.7" cy="505.5" r="1.450"/><circle cx="616.8" cy="498.0" r="1.450"/><circle cx="624.0" cy="495.5" r="1.450"/><circle cx="631.1" cy="498.0" r="1.450"/><circle cx="638.3" cy="498.0" r="1.450"/><circle cx="645.4" cy="468.6" r="1.450"/><circle cx="652.6" cy="499.8" r="1.450"/><circle cx="659.7" cy="511.7" r="1.450"/><circle cx="666.9" cy="480.5" r="1.450"/><circle cx="674.0" cy="493.0" r="1.450"/><circle cx="681.2" cy="466.7" r="1.450"/><circle cx="688.3" cy="481.7" r="1.450"/><circle cx="695.5" cy="485.5" r="1.450"/><circle cx="702.7" cy="459.5" r="1.450"/><circle cx="709.8" cy="495.5" r="1.450"/><circle cx="717.0" cy="459.9" r="1.450"/><circle cx="724.1" cy="474.9" r="1.450"/><circle cx="731.3" cy="478.0" r="1.450"/><circle cx="738.4" cy="503.0" r="1.450"/><circle cx="745.6" cy="506.7" r="1.450"/><circle cx="752.7" cy="489.2" r="1.450"/><circle cx="759.9" cy="474.9" r="1.450"/><circle cx="767.0" cy="474.2" r="1.450"/><circle cx="774.2" cy="503.0" r="1.450"/><circle cx="781.3" cy="500.5" r="1.450"/><circle cx="788.5" cy="500.5" r="1.450"/><circle cx="795.6" cy="464.2" r="1.450"/><circle cx="802.8" cy="510.5" r="1.450"/><circle cx="809.9" cy="489.2" r="1.450"/><circle cx="817.1" cy="481.7" r="1.450"/><circle cx="824.3" cy="468.0" r="1.450"/><circle cx="831.4" cy="466.7" r="1.450"/><circle cx="838.6" cy="467.4" r="1.450"/><circle cx="845.7" cy="508.0" r="1.450"/><circle cx="852.9" cy="455.5" r="1.450"/><circle cx="860.0" cy="458.6" r="1.450"/><circle cx="867.2" cy="471.7" r="1.450"/><circle cx="874.3" cy="463.0" r="1.450"/><circle cx="881.5" cy="476.7" r="1.450"/><circle cx="888.6" cy="501.7" r="1.450"/><circle cx="895.8" cy="498.0" r="1.450"/><circle cx="902.9" cy="479.2" r="1.450"/><circle cx="910.1" cy="479.2" r="1.450"/><circle cx="917.2" cy="510.5" r="1.450"/><circle cx="924.4" cy="463.0" r="1.450"/><circle cx="931.5" cy="480.5" r="1.450"/><circle cx="938.7" cy="465.5" r="1.450"/><circle cx="945.9" cy="474.2" r="1.450"/><circle cx="953.0" cy="456.1" r="1.450"/><circle cx="960.2" cy="470.5" r="1.450"/><circle cx="967.3" cy="491.7" r="1.450"/><circle cx="974.5" cy="469.2" r="1.450"/><circle cx="981.6" cy="495.5" r="1.450"/></g><path d="M223.4 474.6C226.3 468.5 228.4 457.4 230.6 459.2C234.2 462.5 234.4 485.3 237.7 487.3C240.1 488.8 242.2 467.4 244.9 468.0C247.9 468.7 248.7 481.6 252.0 490.5C254.5 497.1 256.4 506.9 259.2 506.7C262.1 506.4 263.9 496.4 266.3 489.2C269.7 479.1 271.5 460.2 273.5 463.6C277.2 470.2 277.3 511.2 280.6 514.2C283.1 516.4 285.2 475.2 287.8 476.7C290.9 478.7 290.2 510.3 294.9 522.9C296.0 525.8 299.6 518.7 302.1 515.4C305.3 511.2 306.4 504.1 309.2 504.2C312.2 504.3 315.1 519.3 316.4 516.1C320.8 505.0 319.0 480.2 323.5 468.6C324.7 465.5 328.8 474.5 330.7 479.2C334.6 489.0 334.7 494.7 337.8 504.8C340.4 512.9 341.5 522.9 345.0 524.8C347.3 526.1 350.3 518.1 352.2 513.0C356.0 502.4 355.1 495.7 359.3 485.5C360.8 481.7 365.2 475.5 366.5 478.0C370.9 486.5 368.8 501.3 373.6 513.0C374.6 515.3 379.9 515.3 380.8 513.0C385.6 499.4 384.6 475.6 387.9 473.0C390.3 471.1 391.9 490.3 395.1 501.7C397.6 510.8 400.4 527.7 402.2 524.2C406.1 516.5 405.6 480.6 409.4 473.6C411.3 470.1 412.7 488.7 416.5 498.0C418.4 502.4 421.8 509.8 423.7 508.0C427.5 504.1 428.4 481.9 430.8 483.6C434.2 485.9 434.8 516.3 438.0 517.9C440.5 519.3 442.2 501.8 445.1 491.1C447.9 481.3 448.8 469.2 452.3 466.7C454.5 465.2 457.1 482.3 459.4 481.1C462.8 479.3 464.0 458.4 466.6 459.2C469.7 460.2 470.1 482.3 473.8 485.5C475.8 487.3 478.2 477.3 480.9 471.7C484.0 465.3 486.9 454.2 488.1 455.5C492.6 471.7 492.2 521.4 495.2 522.9C497.9 524.4 499.5 463.2 502.4 463.0C505.2 462.7 506.0 516.2 509.5 521.7C511.7 525.2 513.2 488.5 516.7 485.5C519.0 483.5 520.2 506.4 523.8 509.2C525.9 510.9 528.9 494.9 531.0 496.7C534.7 499.9 535.4 522.2 538.1 521.7C541.1 521.2 540.8 503.7 545.3 494.2C546.5 491.7 551.4 489.4 552.4 491.7C557.2 502.4 556.4 525.0 559.6 526.7C562.1 528.0 563.0 502.8 566.7 499.2C568.8 497.3 570.7 512.1 573.9 513.0C576.4 513.6 578.9 507.3 581.0 503.0C584.6 495.6 584.0 488.7 588.2 483.6C589.7 481.8 592.9 484.1 595.4 485.5C598.6 487.3 601.2 494.0 602.5 491.7C606.9 484.2 607.6 457.7 609.7 461.1C613.3 467.1 614.1 516.5 616.8 515.4C619.8 514.3 620.3 462.4 624.0 455.7C626.0 454.2 626.8 476.5 631.1 489.2C632.5 493.4 636.2 494.0 638.3 498.0C641.9 505.0 643.7 520.1 645.4 516.7C649.5 508.6 649.0 473.9 652.6 469.2C654.8 466.4 656.2 495.2 659.7 498.0C662.0 499.7 665.2 477.3 666.9 480.5C670.9 488.2 670.8 523.2 674.0 525.4C676.6 527.2 677.5 504.2 681.2 490.5C683.3 482.7 685.0 479.0 688.3 471.7C690.8 466.4 694.4 455.3 695.5 459.0C700.1 473.8 697.5 496.9 702.7 517.9C703.3 520.5 708.7 520.2 709.8 517.9C714.4 508.7 713.4 500.5 717.0 489.2C719.1 482.2 722.3 469.6 724.1 472.4C728.0 478.1 726.9 501.9 731.3 510.5C732.6 513.2 734.8 502.5 738.4 500.5C740.6 499.2 743.9 504.1 745.6 502.3C749.6 498.1 750.7 483.3 752.7 485.5C756.4 489.5 755.7 511.4 759.9 517.9C761.4 520.4 765.7 512.6 767.0 508.0C771.4 492.9 770.5 473.5 774.2 468.6C776.2 466.0 777.9 481.2 781.3 489.2C783.6 494.5 787.0 504.6 788.5 501.7C792.7 493.6 793.3 459.0 795.6 461.7C799.0 465.5 799.4 513.6 802.8 517.9C805.1 520.9 806.4 483.5 809.9 479.9C812.1 477.5 814.1 493.8 817.1 503.0C819.8 511.0 822.2 525.4 824.3 522.9C827.9 518.4 828.2 487.1 831.4 485.5C834.0 484.1 834.6 503.9 838.6 515.4C840.3 520.4 844.2 529.3 845.7 526.7C849.9 519.3 848.6 498.3 852.9 490.5C854.3 487.8 857.8 496.1 860.0 500.5C863.5 507.1 863.5 511.5 867.2 517.9C869.2 521.5 871.5 525.4 874.3 525.4C877.2 525.4 879.6 521.6 881.5 517.9C885.3 510.6 885.4 505.8 888.6 498.0C891.1 492.0 893.7 489.6 895.8 483.6C899.4 473.1 900.2 456.4 902.9 456.7C905.9 457.1 907.6 473.9 910.1 485.5C913.3 500.4 913.7 519.2 917.2 522.9C919.4 525.2 921.6 509.5 924.4 500.5C927.3 491.2 929.6 474.0 931.5 477.4C935.4 484.0 936.0 526.8 938.7 525.4C941.8 523.8 940.8 490.2 945.9 469.9C946.5 467.2 950.1 468.0 953.0 468.0C955.9 468.0 958.2 471.2 960.2 469.9C963.9 467.3 963.6 461.4 967.3 458.0C969.3 456.2 972.8 455.0 974.5 456.7C978.6 461.2 978.8 466.9 981.6 473.6L981.6 529.3L223.4 529.3Z" fill="rgba(66,10,176,.5)"/><path d="M223.4 474.6C226.3 468.5 228.4 457.4 230.6 459.2C234.2 462.5 234.4 485.3 237.7 487.3C240.1 488.8 242.2 467.4 244.9 468.0C247.9 468.7 248.7 481.6 252.0 490.5C254.5 497.1 256.4 506.9 259.2 506.7C262.1 506.4 263.9 496.4 266.3 489.2C269.7 479.1 271.5 460.2 273.5 463.6C277.2 470.2 277.3 511.2 280.6 514.2C283.1 516.4 285.2 475.2 287.8 476.7C290.9 478.7 290.2 510.3 294.9 522.9C296.0 525.8 299.6 518.7 302.1 515.4C305.3 511.2 306.4 504.1 309.2 504.2C312.2 504.3 315.1 519.3 316.4 516.1C320.8 505.0 319.0 480.2 323.5 468.6C324.7 465.5 328.8 474.5 330.7 479.2C334.6 489.0 334.7 494.7 337.8 504.8C340.4 512.9 341.5 522.9 345.0 524.8C347.3 526.1 350.3 518.1 352.2 513.0C356.0 502.4 355.1 495.7 359.3 485.5C360.8 481.7 365.2 475.5 366.5 478.0C370.9 486.5 368.8 501.3 373.6 513.0C374.6 515.3 379.9 515.3 380.8 513.0C385.6 499.4 384.6 475.6 387.9 473.0C390.3 471.1 391.9 490.3 395.1 501.7C397.6 510.8 400.4 527.7 402.2 524.2C406.1 516.5 405.6 480.6 409.4 473.6C411.3 470.1 412.7 488.7 416.5 498.0C418.4 502.4 421.8 509.8 423.7 508.0C427.5 504.1 428.4 481.9 430.8 483.6C434.2 485.9 434.8 516.3 438.0 517.9C440.5 519.3 442.2 501.8 445.1 491.1C447.9 481.3 448.8 469.2 452.3 466.7C454.5 465.2 457.1 482.3 459.4 481.1C462.8 479.3 464.0 458.4 466.6 459.2C469.7 460.2 470.1 482.3 473.8 485.5C475.8 487.3 478.2 477.3 480.9 471.7C484.0 465.3 486.9 454.2 488.1 455.5C492.6 471.7 492.2 521.4 495.2 522.9C497.9 524.4 499.5 463.2 502.4 463.0C505.2 462.7 506.0 516.2 509.5 521.7C511.7 525.2 513.2 488.5 516.7 485.5C519.0 483.5 520.2 506.4 523.8 509.2C525.9 510.9 528.9 494.9 531.0 496.7C534.7 499.9 535.4 522.2 538.1 521.7C541.1 521.2 540.8 503.7 545.3 494.2C546.5 491.7 551.4 489.4 552.4 491.7C557.2 502.4 556.4 525.0 559.6 526.7C562.1 528.0 563.0 502.8 566.7 499.2C568.8 497.3 570.7 512.1 573.9 513.0C576.4 513.6 578.9 507.3 581.0 503.0C584.6 495.6 584.0 488.7 588.2 483.6C589.7 481.8 592.9 484.1 595.4 485.5C598.6 487.3 601.2 494.0 602.5 491.7C606.9 484.2 607.6 457.7 609.7 461.1C613.3 467.1 614.1 516.5 616.8 515.4C619.8 514.3 620.3 462.4 624.0 455.7C626.0 454.2 626.8 476.5 631.1 489.2C632.5 493.4 636.2 494.0 638.3 498.0C641.9 505.0 643.7 520.1 645.4 516.7C649.5 508.6 649.0 473.9 652.6 469.2C654.8 466.4 656.2 495.2 659.7 498.0C662.0 499.7 665.2 477.3 666.9 480.5C670.9 488.2 670.8 523.2 674.0 525.4C676.6 527.2 677.5 504.2 681.2 490.5C683.3 482.7 685.0 479.0 688.3 471.7C690.8 466.4 694.4 455.3 695.5 459.0C700.1 473.8 697.5 496.9 702.7 517.9C703.3 520.5 708.7 520.2 709.8 517.9C714.4 508.7 713.4 500.5 717.0 489.2C719.1 482.2 722.3 469.6 724.1 472.4C728.0 478.1 726.9 501.9 731.3 510.5C732.6 513.2 734.8 502.5 738.4 500.5C740.6 499.2 743.9 504.1 745.6 502.3C749.6 498.1 750.7 483.3 752.7 485.5C756.4 489.5 755.7 511.4 759.9 517.9C761.4 520.4 765.7 512.6 767.0 508.0C771.4 492.9 770.5 473.5 774.2 468.6C776.2 466.0 777.9 481.2 781.3 489.2C783.6 494.5 787.0 504.6 788.5 501.7C792.7 493.6 793.3 459.0 795.6 461.7C799.0 465.5 799.4 513.6 802.8 517.9C805.1 520.9 806.4 483.5 809.9 479.9C812.1 477.5 814.1 493.8 817.1 503.0C819.8 511.0 822.2 525.4 824.3 522.9C827.9 518.4 828.2 487.1 831.4 485.5C834.0 484.1 834.6 503.9 838.6 515.4C840.3 520.4 844.2 529.3 845.7 526.7C849.9 519.3 848.6 498.3 852.9 490.5C854.3 487.8 857.8 496.1 860.0 500.5C863.5 507.1 863.5 511.5 867.2 517.9C869.2 521.5 871.5 525.4 874.3 525.4C877.2 525.4 879.6 521.6 881.5 517.9C885.3 510.6 885.4 505.8 888.6 498.0C891.1 492.0 893.7 489.6 895.8 483.6C899.4 473.1 900.2 456.4 902.9 456.7C905.9 457.1 907.6 473.9 910.1 485.5C913.3 500.4 913.7 519.2 917.2 522.9C919.4 525.2 921.6 509.5 924.4 500.5C927.3 491.2 929.6 474.0 931.5 477.4C935.4 484.0 936.0 526.8 938.7 525.4C941.8 523.8 940.8 490.2 945.9 469.9C946.5 467.2 950.1 468.0 953.0 468.0C955.9 468.0 958.2 471.2 960.2 469.9C963.9 467.3 963.6 461.4 967.3 458.0C969.3 456.2 972.8 455.0 974.5 456.7C978.6 461.2 978.8 466.9 981.6 473.6" fill="none" stroke="#1e1e22" stroke-width="1.500" stroke-linejoin="round"/><g fill="#1e1e22"><circle cx="223.4" cy="474.6" r="1.450"/><circle cx="230.6" cy="459.2" r="1.450"/><circle cx="237.7" cy="487.3" r="1.450"/><circle cx="244.9" cy="468.0" r="1.450"/><circle cx="252.0" cy="490.5" r="1.450"/><circle cx="259.2" cy="506.7" r="1.450"/><circle cx="266.3" cy="489.2" r="1.450"/><circle cx="273.5" cy="463.6" r="1.450"/><circle cx="280.6" cy="514.2" r="1.450"/><circle cx="287.8" cy="476.7" r="1.450"/><circle cx="294.9" cy="522.9" r="1.450"/><circle cx="302.1" cy="515.4" r="1.450"/><circle cx="309.2" cy="504.2" r="1.450"/><circle cx="316.4" cy="516.1" r="1.450"/><circle cx="323.5" cy="468.6" r="1.450"/><circle cx="330.7" cy="479.2" r="1.450"/><circle cx="337.8" cy="504.8" r="1.450"/><circle cx="345.0" cy="524.8" r="1.450"/><circle cx="352.2" cy="513.0" r="1.450"/><circle cx="359.3" cy="485.5" r="1.450"/><circle cx="366.5" cy="478.0" r="1.450"/><circle cx="373.6" cy="513.0" r="1.450"/><circle cx="380.8" cy="513.0" r="1.450"/><circle cx="387.9" cy="473.0" r="1.450"/><circle cx="395.1" cy="501.7" r="1.450"/><circle cx="402.2" cy="524.2" r="1.450"/><circle cx="409.4" cy="473.6" r="1.450"/><circle cx="416.5" cy="498.0" r="1.450"/><circle cx="423.7" cy="508.0" r="1.450"/><circle cx="430.8" cy="483.6" r="1.450"/><circle cx="438.0" cy="517.9" r="1.450"/><circle cx="445.1" cy="491.1" r="1.450"/><circle cx="452.3" cy="466.7" r="1.450"/><circle cx="459.4" cy="481.1" r="1.450"/><circle cx="466.6" cy="459.2" r="1.450"/><circle cx="473.8" cy="485.5" r="1.450"/><circle cx="480.9" cy="471.7" r="1.450"/><circle cx="488.1" cy="455.5" r="1.450"/><circle cx="495.2" cy="522.9" r="1.450"/><circle cx="502.4" cy="463.0" r="1.450"/><circle cx="509.5" cy="521.7" r="1.450"/><circle cx="516.7" cy="485.5" r="1.450"/><circle cx="523.8" cy="509.2" r="1.450"/><circle cx="531.0" cy="496.7" r="1.450"/><circle cx="538.1" cy="521.7" r="1.450"/><circle cx="545.3" cy="494.2" r="1.450"/><circle cx="552.4" cy="491.7" r="1.450"/><circle cx="559.6" cy="526.7" r="1.450"/><circle cx="566.7" cy="499.2" r="1.450"/><circle cx="573.9" cy="513.0" r="1.450"/><circle cx="581.0" cy="503.0" r="1.450"/><circle cx="588.2" cy="483.6" r="1.450"/><circle cx="595.4" cy="485.5" r="1.450"/><circle cx="602.5" cy="491.7" r="1.450"/><circle cx="609.7" cy="461.1" r="1.450"/><circle cx="616.8" cy="515.4" r="1.450"/><circle cx="624.0" cy="455.7" r="1.450"/><circle cx="631.1" cy="489.2" r="1.450"/><circle cx="638.3" cy="498.0" r="1.450"/><circle cx="645.4" cy="516.7" r="1.450"/><circle cx="652.6" cy="469.2" r="1.450"/><circle cx="659.7" cy="498.0" r="1.450"/><circle cx="666.9" cy="480.5" r="1.450"/><circle cx="674.0" cy="525.4" r="1.450"/><circle cx="681.2" cy="490.5" r="1.450"/><circle cx="688.3" cy="471.7" r="1.450"/><circle cx="695.5" cy="459.0" r="1.450"/><circle cx="702.7" cy="517.9" r="1.450"/><circle cx="709.8" cy="517.9" r="1.450"/><circle cx="717.0" cy="489.2" r="1.450"/><circle cx="724.1" cy="472.4" r="1.450"/><circle cx="731.3" cy="510.5" r="1.450"/><circle cx="738.4" cy="500.5" r="1.450"/><circle cx="745.6" cy="502.3" r="1.450"/><circle cx="752.7" cy="485.5" r="1.450"/><circle cx="759.9" cy="517.9" r="1.450"/><circle cx="767.0" cy="508.0" r="1.450"/><circle cx="774.2" cy="468.6" r="1.450"/><circle cx="781.3" cy="489.2" r="1.450"/><circle cx="788.5" cy="501.7" r="1.450"/><circle cx="795.6" cy="461.7" r="1.450"/><circle cx="802.8" cy="517.9" r="1.450"/><circle cx="809.9" cy="479.9" r="1.450"/><circle cx="817.1" cy="503.0" r="1.450"/><circle cx="824.3" cy="522.9" r="1.450"/><circle cx="831.4" cy="485.5" r="1.450"/><circle cx="838.6" cy="515.4" r="1.450"/><circle cx="845.7" cy="526.7" r="1.450"/><circle cx="852.9" cy="490.5" r="1.450"/><circle cx="860.0" cy="500.5" r="1.450"/><circle cx="867.2" cy="517.9" r="1.450"/><circle cx="874.3" cy="525.4" r="1.450"/><circle cx="881.5" cy="517.9" r="1.450"/><circle cx="888.6" cy="498.0" r="1.450"/><circle cx="895.8" cy="483.6" r="1.450"/><circle cx="902.9" cy="456.7" r="1.450"/><circle cx="910.1" cy="485.5" r="1.450"/><circle cx="917.2" cy="522.9" r="1.450"/><circle cx="924.4" cy="500.5" r="1.450"/><circle cx="931.5" cy="477.4" r="1.450"/><circle cx="938.7" cy="525.4" r="1.450"/><circle cx="945.9" cy="469.9" r="1.450"/><circle cx="953.0" cy="468.0" r="1.450"/><circle cx="960.2" cy="469.9" r="1.450"/><circle cx="967.3" cy="458.0" r="1.450"/><circle cx="974.5" cy="456.7" r="1.450"/><circle cx="981.6" cy="473.6" r="1.450"/></g><path d="M223.4 483.0C226.3 484.0 228.9 483.2 230.6 485.5C234.6 491.2 234.0 496.5 237.7 503.0C239.7 506.5 242.5 507.1 244.9 510.5C248.2 515.1 250.2 525.2 252.0 522.9C255.9 518.0 254.9 503.9 259.2 492.3C260.6 488.4 263.2 487.2 266.3 484.2C268.9 481.7 271.8 476.9 273.5 478.6C277.5 482.6 278.3 500.1 280.6 498.6C284.0 496.4 285.1 468.6 287.8 469.2C290.8 469.9 292.5 504.0 294.9 501.7C298.3 498.6 298.1 463.5 302.1 455.7C303.8 454.2 307.3 466.6 309.2 474.2C313.0 489.5 313.8 514.4 316.4 513.0C319.5 511.2 320.3 468.7 323.5 466.1C326.0 464.2 326.0 488.8 330.7 501.7C331.7 504.6 336.6 507.6 337.8 505.5C342.3 497.6 340.4 485.8 345.0 476.7C346.1 474.5 349.8 476.1 352.2 477.4C355.5 479.1 356.0 482.3 359.3 484.2C361.7 485.6 363.9 484.3 366.5 485.5C369.6 487.0 371.8 492.7 373.6 491.1C377.5 487.5 378.0 472.0 380.8 472.4C383.8 472.8 385.1 484.9 387.9 493.2C390.8 501.8 391.2 506.8 395.1 514.8C396.9 518.7 400.4 524.7 402.2 522.9C406.1 519.4 407.4 510.4 409.4 501.7C413.1 485.7 413.5 462.0 416.5 461.1C419.2 460.3 419.2 483.8 423.7 497.3C424.9 501.0 428.6 501.0 430.8 504.2C434.3 509.0 436.5 520.4 438.0 517.3C442.3 508.2 440.9 490.7 445.1 473.6C446.6 467.5 449.9 458.3 452.3 459.5C455.7 461.3 456.6 481.1 459.4 481.1C462.3 481.0 464.4 457.2 466.6 459.2C470.1 462.4 470.5 480.3 473.8 494.2C476.3 505.0 476.4 512.3 480.9 521.1C482.1 523.3 487.3 524.1 488.1 521.7C493.0 507.1 490.3 492.7 495.2 478.6C496.0 476.2 499.5 480.1 502.4 480.5C505.2 480.8 506.7 480.5 509.5 480.5C512.4 480.5 513.8 480.7 516.7 480.5C519.6 480.2 521.6 480.8 523.8 479.2C527.3 476.8 527.7 471.5 531.0 470.5C533.4 469.7 537.2 471.8 538.1 474.9C543.0 491.3 542.8 521.7 545.3 519.2C548.5 515.9 548.6 468.9 552.4 460.5C554.3 456.4 555.1 478.4 559.6 488.0C560.8 490.6 564.3 491.9 566.7 491.1C570.1 489.9 572.1 481.2 573.9 483.0C577.8 486.9 577.3 496.9 581.0 505.5C583.1 510.1 584.7 514.6 588.2 516.1C590.5 517.1 592.9 511.0 595.4 511.7C598.6 512.5 601.3 522.6 602.5 519.8C607.1 509.1 605.1 493.8 609.7 478.0C610.8 474.1 615.5 468.0 616.8 470.5C621.3 479.2 620.8 504.4 624.0 506.1C626.5 507.4 627.0 488.6 631.1 478.0C632.7 473.8 636.9 466.7 638.3 469.2C642.6 477.0 640.7 492.4 645.4 503.6C646.4 505.9 651.2 501.0 652.6 503.0C656.9 509.0 656.6 522.8 659.7 523.6C662.3 524.3 662.8 511.0 666.9 506.7C668.5 505.0 673.3 511.0 674.0 508.6C679.0 492.3 676.3 475.6 681.2 459.9C682.0 457.4 687.3 460.3 688.3 463.0C693.0 475.5 692.1 484.1 695.5 498.0C697.8 507.1 701.1 524.9 702.7 520.4C706.8 508.4 705.5 469.9 709.8 456.7C711.2 454.2 715.3 468.4 717.0 476.7C721.0 496.7 721.2 527.1 724.1 527.3C726.9 527.6 727.4 485.3 731.3 478.0C733.1 474.5 734.3 492.3 738.4 500.5C740.1 503.8 744.6 509.4 745.6 506.7C750.3 493.2 748.4 469.8 752.7 459.9C754.1 456.6 756.0 470.0 759.9 473.6C761.7 475.3 764.2 472.9 767.0 473.0C769.9 473.1 773.4 471.7 774.2 474.2C779.2 491.4 778.6 523.3 781.3 522.3C784.3 521.3 785.6 469.4 788.5 469.2C791.3 469.1 793.0 523.4 795.6 521.7C798.7 519.7 800.0 459.5 802.8 459.9C805.7 460.2 807.2 524.2 809.9 523.6C812.9 522.9 811.9 480.4 817.1 456.7C817.7 454.2 823.2 455.6 824.3 458.0C828.9 468.6 827.8 477.0 831.4 489.2C833.5 496.2 836.9 509.3 838.6 506.1C842.6 498.1 843.1 459.3 845.7 461.1C848.9 463.3 849.4 511.2 852.9 516.1C855.1 519.2 857.2 481.1 860.0 481.1C862.9 481.1 864.6 517.5 867.2 516.1C870.3 514.3 869.6 489.0 874.3 473.0C875.3 469.8 878.9 470.3 881.5 468.0C884.6 465.1 887.8 456.7 888.6 459.9C893.5 477.2 892.4 514.6 895.8 519.2C898.1 522.3 899.4 495.0 902.9 479.2C905.1 469.6 908.2 454.2 910.1 455.5C913.9 462.5 913.4 498.4 917.2 505.5C919.1 508.9 921.8 480.8 924.4 481.7C927.5 482.8 929.3 513.2 931.5 510.5C935.1 506.0 935.3 467.3 938.7 463.6C941.0 461.1 942.3 491.4 945.9 494.8C948.0 496.9 950.9 475.4 953.0 477.4C956.6 480.6 956.4 496.0 960.2 508.0C962.1 514.3 963.3 518.4 967.3 522.9C969.1 524.9 972.8 525.9 974.5 524.2C978.5 519.9 978.8 514.5 981.6 508.0L981.6 529.3L223.4 529.3Z" fill="rgba(46,164,234,.55)"/><path d="M223.4 483.0C226.3 484.0 228.9 483.2 230.6 485.5C234.6 491.2 234.0 496.5 237.7 503.0C239.7 506.5 242.5 507.1 244.9 510.5C248.2 515.1 250.2 525.2 252.0 522.9C255.9 518.0 254.9 503.9 259.2 492.3C260.6 488.4 263.2 487.2 266.3 484.2C268.9 481.7 271.8 476.9 273.5 478.6C277.5 482.6 278.3 500.1 280.6 498.6C284.0 496.4 285.1 468.6 287.8 469.2C290.8 469.9 292.5 504.0 294.9 501.7C298.3 498.6 298.1 463.5 302.1 455.7C303.8 454.2 307.3 466.6 309.2 474.2C313.0 489.5 313.8 514.4 316.4 513.0C319.5 511.2 320.3 468.7 323.5 466.1C326.0 464.2 326.0 488.8 330.7 501.7C331.7 504.6 336.6 507.6 337.8 505.5C342.3 497.6 340.4 485.8 345.0 476.7C346.1 474.5 349.8 476.1 352.2 477.4C355.5 479.1 356.0 482.3 359.3 484.2C361.7 485.6 363.9 484.3 366.5 485.5C369.6 487.0 371.8 492.7 373.6 491.1C377.5 487.5 378.0 472.0 380.8 472.4C383.8 472.8 385.1 484.9 387.9 493.2C390.8 501.8 391.2 506.8 395.1 514.8C396.9 518.7 400.4 524.7 402.2 522.9C406.1 519.4 407.4 510.4 409.4 501.7C413.1 485.7 413.5 462.0 416.5 461.1C419.2 460.3 419.2 483.8 423.7 497.3C424.9 501.0 428.6 501.0 430.8 504.2C434.3 509.0 436.5 520.4 438.0 517.3C442.3 508.2 440.9 490.7 445.1 473.6C446.6 467.5 449.9 458.3 452.3 459.5C455.7 461.3 456.6 481.1 459.4 481.1C462.3 481.0 464.4 457.2 466.6 459.2C470.1 462.4 470.5 480.3 473.8 494.2C476.3 505.0 476.4 512.3 480.9 521.1C482.1 523.3 487.3 524.1 488.1 521.7C493.0 507.1 490.3 492.7 495.2 478.6C496.0 476.2 499.5 480.1 502.4 480.5C505.2 480.8 506.7 480.5 509.5 480.5C512.4 480.5 513.8 480.7 516.7 480.5C519.6 480.2 521.6 480.8 523.8 479.2C527.3 476.8 527.7 471.5 531.0 470.5C533.4 469.7 537.2 471.8 538.1 474.9C543.0 491.3 542.8 521.7 545.3 519.2C548.5 515.9 548.6 468.9 552.4 460.5C554.3 456.4 555.1 478.4 559.6 488.0C560.8 490.6 564.3 491.9 566.7 491.1C570.1 489.9 572.1 481.2 573.9 483.0C577.8 486.9 577.3 496.9 581.0 505.5C583.1 510.1 584.7 514.6 588.2 516.1C590.5 517.1 592.9 511.0 595.4 511.7C598.6 512.5 601.3 522.6 602.5 519.8C607.1 509.1 605.1 493.8 609.7 478.0C610.8 474.1 615.5 468.0 616.8 470.5C621.3 479.2 620.8 504.4 624.0 506.1C626.5 507.4 627.0 488.6 631.1 478.0C632.7 473.8 636.9 466.7 638.3 469.2C642.6 477.0 640.7 492.4 645.4 503.6C646.4 505.9 651.2 501.0 652.6 503.0C656.9 509.0 656.6 522.8 659.7 523.6C662.3 524.3 662.8 511.0 666.9 506.7C668.5 505.0 673.3 511.0 674.0 508.6C679.0 492.3 676.3 475.6 681.2 459.9C682.0 457.4 687.3 460.3 688.3 463.0C693.0 475.5 692.1 484.1 695.5 498.0C697.8 507.1 701.1 524.9 702.7 520.4C706.8 508.4 705.5 469.9 709.8 456.7C711.2 454.2 715.3 468.4 717.0 476.7C721.0 496.7 721.2 527.1 724.1 527.3C726.9 527.6 727.4 485.3 731.3 478.0C733.1 474.5 734.3 492.3 738.4 500.5C740.1 503.8 744.6 509.4 745.6 506.7C750.3 493.2 748.4 469.8 752.7 459.9C754.1 456.6 756.0 470.0 759.9 473.6C761.7 475.3 764.2 472.9 767.0 473.0C769.9 473.1 773.4 471.7 774.2 474.2C779.2 491.4 778.6 523.3 781.3 522.3C784.3 521.3 785.6 469.4 788.5 469.2C791.3 469.1 793.0 523.4 795.6 521.7C798.7 519.7 800.0 459.5 802.8 459.9C805.7 460.2 807.2 524.2 809.9 523.6C812.9 522.9 811.9 480.4 817.1 456.7C817.7 454.2 823.2 455.6 824.3 458.0C828.9 468.6 827.8 477.0 831.4 489.2C833.5 496.2 836.9 509.3 838.6 506.1C842.6 498.1 843.1 459.3 845.7 461.1C848.9 463.3 849.4 511.2 852.9 516.1C855.1 519.2 857.2 481.1 860.0 481.1C862.9 481.1 864.6 517.5 867.2 516.1C870.3 514.3 869.6 489.0 874.3 473.0C875.3 469.8 878.9 470.3 881.5 468.0C884.6 465.1 887.8 456.7 888.6 459.9C893.5 477.2 892.4 514.6 895.8 519.2C898.1 522.3 899.4 495.0 902.9 479.2C905.1 469.6 908.2 454.2 910.1 455.5C913.9 462.5 913.4 498.4 917.2 505.5C919.1 508.9 921.8 480.8 924.4 481.7C927.5 482.8 929.3 513.2 931.5 510.5C935.1 506.0 935.3 467.3 938.7 463.6C941.0 461.1 942.3 491.4 945.9 494.8C948.0 496.9 950.9 475.4 953.0 477.4C956.6 480.6 956.4 496.0 960.2 508.0C962.1 514.3 963.3 518.4 967.3 522.9C969.1 524.9 972.8 525.9 974.5 524.2C978.5 519.9 978.8 514.5 981.6 508.0" fill="none" stroke="#1e1e22" stroke-width="1.500" stroke-linejoin="round"/><g fill="#1e1e22"><circle cx="223.4" cy="483.0" r="1.450"/><circle cx="230.6" cy="485.5" r="1.450"/><circle cx="237.7" cy="503.0" r="1.450"/><circle cx="244.9" cy="510.5" r="1.450"/><circle cx="252.0" cy="522.9" r="1.450"/><circle cx="259.2" cy="492.3" r="1.450"/><circle cx="266.3" cy="484.2" r="1.450"/><circle cx="273.5" cy="478.6" r="1.450"/><circle cx="280.6" cy="498.6" r="1.450"/><circle cx="287.8" cy="469.2" r="1.450"/><circle cx="294.9" cy="501.7" r="1.450"/><circle cx="302.1" cy="455.7" r="1.450"/><circle cx="309.2" cy="474.2" r="1.450"/><circle cx="316.4" cy="513.0" r="1.450"/><circle cx="323.5" cy="466.1" r="1.450"/><circle cx="330.7" cy="501.7" r="1.450"/><circle cx="337.8" cy="505.5" r="1.450"/><circle cx="345.0" cy="476.7" r="1.450"/><circle cx="352.2" cy="477.4" r="1.450"/><circle cx="359.3" cy="484.2" r="1.450"/><circle cx="366.5" cy="485.5" r="1.450"/><circle cx="373.6" cy="491.1" r="1.450"/><circle cx="380.8" cy="472.4" r="1.450"/><circle cx="387.9" cy="493.2" r="1.450"/><circle cx="395.1" cy="514.8" r="1.450"/><circle cx="402.2" cy="522.9" r="1.450"/><circle cx="409.4" cy="501.7" r="1.450"/><circle cx="416.5" cy="461.1" r="1.450"/><circle cx="423.7" cy="497.3" r="1.450"/><circle cx="430.8" cy="504.2" r="1.450"/><circle cx="438.0" cy="517.3" r="1.450"/><circle cx="445.1" cy="473.6" r="1.450"/><circle cx="452.3" cy="459.5" r="1.450"/><circle cx="459.4" cy="481.1" r="1.450"/><circle cx="466.6" cy="459.2" r="1.450"/><circle cx="473.8" cy="494.2" r="1.450"/><circle cx="480.9" cy="521.1" r="1.450"/><circle cx="488.1" cy="521.7" r="1.450"/><circle cx="495.2" cy="478.6" r="1.450"/><circle cx="502.4" cy="480.5" r="1.450"/><circle cx="509.5" cy="480.5" r="1.450"/><circle cx="516.7" cy="480.5" r="1.450"/><circle cx="523.8" cy="479.2" r="1.450"/><circle cx="531.0" cy="470.5" r="1.450"/><circle cx="538.1" cy="474.9" r="1.450"/><circle cx="545.3" cy="519.2" r="1.450"/><circle cx="552.4" cy="460.5" r="1.450"/><circle cx="559.6" cy="488.0" r="1.450"/><circle cx="566.7" cy="491.1" r="1.450"/><circle cx="573.9" cy="483.0" r="1.450"/><circle cx="581.0" cy="505.5" r="1.450"/><circle cx="588.2" cy="516.1" r="1.450"/><circle cx="595.4" cy="511.7" r="1.450"/><circle cx="602.5" cy="519.8" r="1.450"/><circle cx="609.7" cy="478.0" r="1.450"/><circle cx="616.8" cy="470.5" r="1.450"/><circle cx="624.0" cy="506.1" r="1.450"/><circle cx="631.1" cy="478.0" r="1.450"/><circle cx="638.3" cy="469.2" r="1.450"/><circle cx="645.4" cy="503.6" r="1.450"/><circle cx="652.6" cy="503.0" r="1.450"/><circle cx="659.7" cy="523.6" r="1.450"/><circle cx="666.9" cy="506.7" r="1.450"/><circle cx="674.0" cy="508.6" r="1.450"/><circle cx="681.2" cy="459.9" r="1.450"/><circle cx="688.3" cy="463.0" r="1.450"/><circle cx="695.5" cy="498.0" r="1.450"/><circle cx="702.7" cy="520.4" r="1.450"/><circle cx="709.8" cy="456.7" r="1.450"/><circle cx="717.0" cy="476.7" r="1.450"/><circle cx="724.1" cy="527.3" r="1.450"/><circle cx="731.3" cy="478.0" r="1.450"/><circle cx="738.4" cy="500.5" r="1.450"/><circle cx="745.6" cy="506.7" r="1.450"/><circle cx="752.7" cy="459.9" r="1.450"/><circle cx="759.9" cy="473.6" r="1.450"/><circle cx="767.0" cy="473.0" r="1.450"/><circle cx="774.2" cy="474.2" r="1.450"/><circle cx="781.3" cy="522.3" r="1.450"/><circle cx="788.5" cy="469.2" r="1.450"/><circle cx="795.6" cy="521.7" r="1.450"/><circle cx="802.8" cy="459.9" r="1.450"/><circle cx="809.9" cy="523.6" r="1.450"/><circle cx="817.1" cy="456.7" r="1.450"/><circle cx="824.3" cy="458.0" r="1.450"/><circle cx="831.4" cy="489.2" r="1.450"/><circle cx="838.6" cy="506.1" r="1.450"/><circle cx="845.7" cy="461.1" r="1.450"/><circle cx="852.9" cy="516.1" r="1.450"/><circle cx="860.0" cy="481.1" r="1.450"/><circle cx="867.2" cy="516.1" r="1.450"/><circle cx="874.3" cy="473.0" r="1.450"/><circle cx="881.5" cy="468.0" r="1.450"/><circle cx="888.6" cy="459.9" r="1.450"/><circle cx="895.8" cy="519.2" r="1.450"/><circle cx="902.9" cy="479.2" r="1.450"/><circle cx="910.1" cy="455.5" r="1.450"/><circle cx="917.2" cy="505.5" r="1.450"/><circle cx="924.4" cy="481.7" r="1.450"/><circle cx="931.5" cy="510.5" r="1.450"/><circle cx="938.7" cy="463.6" r="1.450"/><circle cx="945.9" cy="494.8" r="1.450"/><circle cx="953.0" cy="477.4" r="1.450"/><circle cx="960.2" cy="508.0" r="1.450"/><circle cx="967.3" cy="522.9" r="1.450"/><circle cx="974.5" cy="524.2" r="1.450"/><circle cx="981.6" cy="508.0" r="1.450"/></g><text transform="translate(215.30 532.20) scale(1.140 1)" text-anchor="end" font-size="8" fill="#242424">0</text><text transform="translate(215.30 517.38) scale(1.140 1)" text-anchor="end" font-size="8" fill="#242424">100000</text><text transform="translate(215.30 502.56) scale(1.140 1)" text-anchor="end" font-size="8" fill="#242424">200000</text><text transform="translate(215.30 487.74) scale(1.140 1)" text-anchor="end" font-size="8" fill="#242424">300000</text><text transform="translate(215.30 472.92) scale(1.140 1)" text-anchor="end" font-size="8" fill="#242424">400000</text><text transform="translate(215.30 458.10) scale(1.140 1)" text-anchor="end" font-size="8" fill="#242424">500000</text><text transform="translate(223.80 542.30) scale(1.165 1)" text-anchor="middle" font-size="8" fill="#242424">29/01 12:06</text><text transform="translate(273.87 542.30) scale(1.165 1)" text-anchor="middle" font-size="8" fill="#242424">29/01 12:12</text><text transform="translate(323.94 542.30) scale(1.165 1)" text-anchor="middle" font-size="8" fill="#242424">29/01 12:19</text><text transform="translate(374.01 542.30) scale(1.165 1)" text-anchor="middle" font-size="8" fill="#242424">29/01 12:26</text><text transform="translate(424.08 542.30) scale(1.165 1)" text-anchor="middle" font-size="8" fill="#242424">29/01 12:33</text><text transform="translate(474.15 542.30) scale(1.165 1)" text-anchor="middle" font-size="8" fill="#242424">29/01 12:40</text><text transform="translate(524.23 542.30) scale(1.165 1)" text-anchor="middle" font-size="8" fill="#242424">29/01 12:46</text><text transform="translate(574.30 542.30) scale(1.165 1)" text-anchor="middle" font-size="8" fill="#242424">29/01 12:53</text><text transform="translate(624.37 542.30) scale(1.165 1)" text-anchor="middle" font-size="8" fill="#242424">29/01 13:00</text><text transform="translate(674.44 542.30) scale(1.165 1)" text-anchor="middle" font-size="8" fill="#242424">29/01 13:07</text><text transform="translate(724.51 542.30) scale(1.165 1)" text-anchor="middle" font-size="8" fill="#242424">29/01 13:14</text><text transform="translate(774.58 542.30) scale(1.165 1)" text-anchor="middle" font-size="8" fill="#242424">29/01 13:21</text><text transform="translate(824.65 542.30) scale(1.165 1)" text-anchor="middle" font-size="8" fill="#242424">29/01 13:28</text><text transform="translate(874.72 542.30) scale(1.165 1)" text-anchor="middle" font-size="8" fill="#242424">29/01 13:35</text><text transform="translate(924.79 542.30) scale(1.165 1)" text-anchor="middle" font-size="8" fill="#242424">29/01 13:42</text><text transform="translate(982.02 542.30) scale(1.165 1)" text-anchor="middle" font-size="8" fill="#242424">29/01 13:50</text><rect x="375.3" y="441" width="31.600" height="7.800" fill="#8dd0f7" stroke="#2a2a33" stroke-width="1.200"/><text transform="translate(411.23 448.10) scale(1.177 1)" text-anchor="start" font-size="7.8" fill="#242424">Checkpoint R77 VSX</text><rect x="505.3" y="441" width="31.600" height="7.800" fill="#a88ddc" stroke="#2a2a33" stroke-width="1.200"/><text transform="translate(540.73 448.10) scale(1.187 1)" text-anchor="start" font-size="7.8" fill="#242424">Checkpoint Provider-1 R77.30</text><rect x="672.7" y="441" width="31.600" height="7.800" fill="#a8999f" stroke="#2a2a33" stroke-width="1.200"/><text transform="translate(708.23 448.10) scale(1.184 1)" text-anchor="start" font-size="7.8" fill="#242424">Checkpoint R80.10 FW1</text></svg>
<svg style="left:0;top:0" width="1241" height="900" viewBox="0 0 1241 900" font-family="Liberation Sans, sans-serif"><path d="M498.4 751.5H694.2M498.4 731.5H694.2M498.4 712.5H694.2M498.4 692.5H694.2M498.4 673.5H694.2M498.4 653.5H694.2M501.5 653.0V755.0M542.5 653.0V755.0M583.5 653.0V755.0M623.5 653.0V755.0M694.5 653.0V755.0" stroke="#ececec" stroke-width="1" fill="none"/><path d="M501.4 737.4C505.5 730.1 507.9 718.4 511.5 719.2C516.0 720.2 519.7 747.3 521.7 742.0C527.9 725.3 524.7 692.4 531.8 664.1C532.8 660.4 540.7 658.7 542.0 662.0C548.8 679.4 546.0 703.7 552.1 715.8C554.1 719.7 559.7 699.1 562.3 701.8C567.8 707.7 567.7 735.0 572.4 737.4C575.9 739.2 576.7 719.4 582.6 712.3C584.8 709.6 590.8 709.9 592.7 712.9C598.9 722.6 600.4 749.3 602.9 744.1C608.5 732.3 608.0 677.8 613.0 670.4C616.1 665.9 616.7 698.8 623.2 714.4C624.8 718.2 629.1 718.0 633.3 719.0C637.2 719.9 640.8 716.6 643.5 719.0C648.9 724.0 649.5 737.4 653.6 737.4C657.6 737.5 659.7 719.2 663.8 719.2C667.8 719.2 669.9 737.5 673.9 737.4C678.0 737.4 678.6 724.0 684.0 719.0C686.7 716.6 690.1 719.0 694.2 719.0L694.2 751.0L501.4 751.0Z" fill="#9085d3"/><path d="M501.4 737.4C505.5 730.1 507.9 718.4 511.5 719.2C516.0 720.2 519.7 747.3 521.7 742.0C527.9 725.3 524.7 692.4 531.8 664.1C532.8 660.4 540.7 658.7 542.0 662.0C548.8 679.4 546.0 703.7 552.1 715.8C554.1 719.7 559.7 699.1 562.3 701.8C567.8 707.7 567.7 735.0 572.4 737.4C575.9 739.2 576.7 719.4 582.6 712.3C584.8 709.6 590.8 709.9 592.7 712.9C598.9 722.6 600.4 749.3 602.9 744.1C608.5 732.3 608.0 677.8 613.0 670.4C616.1 665.9 616.7 698.8 623.2 714.4C624.8 718.2 629.1 718.0 633.3 719.0C637.2 719.9 640.8 716.6 643.5 719.0C648.9 724.0 649.5 737.4 653.6 737.4C657.6 737.5 659.7 719.2 663.8 719.2C667.8 719.2 669.9 737.5 673.9 737.4C678.0 737.4 678.6 724.0 684.0 719.0C686.7 716.6 690.1 719.0 694.2 719.0" fill="none" stroke="#1d1d28" stroke-width="1.600" stroke-linejoin="round"/><g fill="#1d1d28"><circle cx="501.4" cy="737.4" r="1.100"/><circle cx="694.2" cy="719.0" r="1.100"/></g><path d="M501.4 740.1C505.5 736.0 507.8 729.1 511.5 729.7C515.9 730.3 519.6 746.6 521.7 743.1C527.7 732.9 525.1 711.5 531.8 695.5C533.2 692.2 540.1 691.9 542.0 694.9C548.3 704.9 546.3 721.2 552.1 728.0C554.5 730.7 559.6 716.3 562.3 718.6C567.8 723.3 568.4 745.6 572.4 745.4C576.6 745.2 576.5 725.7 582.6 717.5C584.6 714.7 590.6 715.1 592.7 717.9C598.7 726.2 599.7 748.1 602.9 745.4C607.8 741.2 608.1 705.0 613.0 700.8C616.2 698.1 617.2 720.9 623.2 728.0C625.3 730.6 629.2 725.7 633.3 724.9C637.3 724.0 640.6 721.7 643.5 723.8C648.7 727.7 649.4 739.6 653.6 739.9C657.5 740.2 659.7 725.3 663.8 725.3C667.8 725.3 669.9 740.1 673.9 739.9C678.0 739.8 678.8 728.4 684.0 724.4C686.9 722.2 690.1 724.4 694.2 724.4L694.2 751.0L501.4 751.0Z" fill="#fac582"/><path d="M501.4 740.1C505.5 736.0 507.8 729.1 511.5 729.7C515.9 730.3 519.6 746.6 521.7 743.1C527.7 732.9 525.1 711.5 531.8 695.5C533.2 692.2 540.1 691.9 542.0 694.9C548.3 704.9 546.3 721.2 552.1 728.0C554.5 730.7 559.6 716.3 562.3 718.6C567.8 723.3 568.4 745.6 572.4 745.4C576.6 745.2 576.5 725.7 582.6 717.5C584.6 714.7 590.6 715.1 592.7 717.9C598.7 726.2 599.7 748.1 602.9 745.4C607.8 741.2 608.1 705.0 613.0 700.8C616.2 698.1 617.2 720.9 623.2 728.0C625.3 730.6 629.2 725.7 633.3 724.9C637.3 724.0 640.6 721.7 643.5 723.8C648.7 727.7 649.4 739.6 653.6 739.9C657.5 740.2 659.7 725.3 663.8 725.3C667.8 725.3 669.9 740.1 673.9 739.9C678.0 739.8 678.8 728.4 684.0 724.4C686.9 722.2 690.1 724.4 694.2 724.4" fill="none" stroke="#1d1d28" stroke-width="1.600" stroke-linejoin="round"/><g fill="#1d1d28"><circle cx="501.4" cy="740.1" r="1.100"/><circle cx="694.2" cy="724.4" r="1.100"/></g><text transform="translate(493.70 753.70) scale(1.150 1)" text-anchor="end" font-size="7.4" fill="#242424">0</text><text transform="translate(493.70 734.10) scale(1.150 1)" text-anchor="end" font-size="7.4" fill="#242424">1kb</text><text transform="translate(493.70 714.50) scale(1.150 1)" text-anchor="end" font-size="7.4" fill="#242424">3kb</text><text transform="translate(493.70 694.90) scale(1.150 1)" text-anchor="end" font-size="7.4" fill="#242424">5kb</text><text transform="translate(493.70 675.30) scale(1.150 1)" text-anchor="end" font-size="7.4" fill="#242424">7kb</text><text transform="translate(493.70 655.70) scale(1.150 1)" text-anchor="end" font-size="7.4" fill="#242424">9kb</text><text transform="translate(501.40 763.60) scale(1.100 1)" text-anchor="middle" font-size="7.4" fill="#242424">16:53:36</text><text transform="translate(541.99 763.60) scale(1.100 1)" text-anchor="middle" font-size="7.4" fill="#242424">16:53:48</text><text transform="translate(582.58 763.60) scale(1.100 1)" text-anchor="middle" font-size="7.4" fill="#242424">16:54:00</text><text transform="translate(623.16 763.60) scale(1.100 1)" text-anchor="middle" font-size="7.4" fill="#242424">16:54:11</text><text transform="translate(694.19 763.60) scale(1.100 1)" text-anchor="middle" font-size="7.4" fill="#242424">16:54:32</text></svg>
<div class="abs" style="left:761px;top:633px;width:264px;height:184px;border:1px solid #d9d9d9"></div>
<div class="abs" style="left:761px;top:669px;width:264px;height:1px;background:#d9d9d9"></div>
<div class="abs" style="left:761px;top:705px;width:264px;height:1px;background:#d9d9d9"></div>
<div class="abs" style="left:761px;top:742px;width:264px;height:1px;background:#d9d9d9"></div>
<div class="abs" style="left:761px;top:779px;width:264px;height:1px;background:#d9d9d9"></div>
<span class="t" style="left:842.26px;top:648.00px;font-size:9px;letter-spacing:0.667px;color:#2f66a3;">Expiration</span>
<span class="t" style="left:903.49px;top:648.00px;font-size:9px;letter-spacing:0.660px;color:#2f66a3;">Simple</span>
<span class="t" style="left:965.54px;top:648.00px;font-size:9px;letter-spacing:0.674px;color:#2f66a3;">Complex</span>
<span class="t" style="left:765.56px;top:684.00px;font-size:9px;letter-spacing:0.670px;color:#2f66a3;">Maintenance</span>
<span class="t" style="left:842.40px;top:684.00px;font-size:9px;letter-spacing:0.580px;color:#2f7d1f;font-weight:bold;">Never</span>
<span class="t" style="left:765.56px;top:720.00px;font-size:9px;letter-spacing:0.539px;color:#2f66a3;">Backup</span>
<span class="t" style="left:842.40px;top:720.00px;font-size:9px;letter-spacing:0.580px;color:#2f7d1f;font-weight:bold;">Never</span>
<span class="t" style="left:765.47px;top:757.00px;font-size:9px;letter-spacing:0.411px;color:#2f66a3;">IntelliChecks</span>
<span class="t" style="left:842.40px;top:757.00px;font-size:9px;letter-spacing:0.580px;color:#2f7d1f;font-weight:bold;">Never</span>
<span class="t" style="left:766.28px;top:794.00px;font-size:9px;letter-spacing:0.047px;color:#2f66a3;">Access</span>
<span class="t" style="left:842.40px;top:794.00px;font-size:9px;letter-spacing:0.580px;color:#2f7d1f;font-weight:bold;">Never</span>
<span class="t" style="left:957.00px;top:684.00px;font-size:9px;letter-spacing:0.204px;color:#2f66a3;">---</span>
<span class="t" style="left:903.33px;top:720.00px;font-size:9px;color:#2f7d1f;font-weight:bold;">1</span>
<span class="t" style="left:911.92px;top:720.00px;font-size:9px;letter-spacing:0.959px;color:#2f66a3;">of</span>
<span class="t u" style="left:923.11px;top:720.00px;font-size:9px;letter-spacing:0.860px;color:#1f4f8a;">100</span>
<span class="t" style="left:965.69px;top:720.00px;font-size:9px;color:#2f7d1f;font-weight:bold;">9</span>
<span class="t" style="left:974.02px;top:720.00px;font-size:9px;letter-spacing:0.959px;color:#2f66a3;">of</span>
<span class="t u" style="left:985.21px;top:720.00px;font-size:9px;letter-spacing:0.860px;color:#1f4f8a;">100</span>
<span class="t" style="left:903.33px;top:757.00px;font-size:9px;color:#2f7d1f;font-weight:bold;">1</span>
<span class="t" style="left:911.92px;top:757.00px;font-size:9px;letter-spacing:0.959px;color:#2f66a3;">of</span>
<span class="t u" style="left:923.11px;top:757.00px;font-size:9px;letter-spacing:0.860px;color:#1f4f8a;">100</span>
<span class="t" style="left:965.67px;top:757.00px;font-size:9px;color:#2f7d1f;font-weight:bold;">6</span>
<span class="t" style="left:974.02px;top:757.00px;font-size:9px;letter-spacing:0.959px;color:#2f66a3;">of</span>
<span class="t u" style="left:985.21px;top:757.00px;font-size:9px;letter-spacing:0.860px;color:#1f4f8a;">100</span>
<span class="t" style="left:943.79px;top:794.00px;font-size:9px;color:#2f7d1f;font-weight:bold;">9</span>
<span class="t" style="left:952.12px;top:794.00px;font-size:9px;letter-spacing:0.959px;color:#2f66a3;">of</span>
<span class="t u" style="left:963.31px;top:794.00px;font-size:9px;letter-spacing:0.860px;color:#1f4f8a;">100</span>
<span class="t" style="left:347.06px;top:771.00px;font-size:57px;letter-spacing:0.955px;color:rgba(120,120,120,.15);font-weight:bold;z-index:9;">SoftwareSuggest</span>
<span class="t" style="left:825.96px;top:794.00px;font-size:30px;letter-spacing:-0.374px;color:rgba(120,120,120,.15);font-weight:bold;z-index:9;">.com</span>
<span class="t" style="left:493.02px;top:881.00px;font-size:9.5px;letter-spacing:0.233px;color:#2d6099;">Copyright © 2018 Backbox - All rights reserved</span>
</div></body></html>
